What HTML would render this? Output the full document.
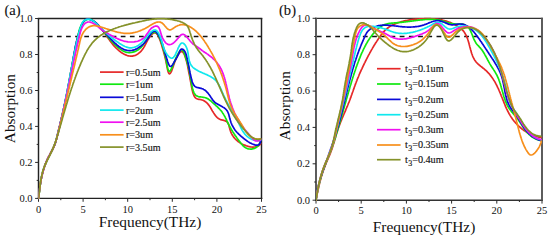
<!DOCTYPE html>
<html><head><meta charset="utf-8"><style>html,body{margin:0;padding:0;background:#fff;width:550px;height:238px;overflow:hidden}svg{display:block}</style></head><body>
<svg width="550" height="238" viewBox="0 0 550 238">
<style>text{font-family:"Liberation Serif",serif;fill:#111;stroke:#111;stroke-width:0.15px}.tk{font-size:10.5px;stroke-width:0}.lg{font-size:10.1px}.lg2{font-size:10.2px}.sb{font-size:8px}.ax{font-size:15.4px;stroke-width:0}.pl{font-size:14.6px;stroke-width:0.1px}</style>
<rect width="550" height="238" fill="#fff"/>
<line x1="38.70" y1="36.5" x2="261.5" y2="36.5" stroke="#111" stroke-width="1.4" stroke-dasharray="4.7 4.42"/>
<path d="M37.7 18.5H262.3 M37.7 198.4H262.3" stroke="#222" stroke-width="1.35" fill="none"/>
<path d="M38.5 17.9V199.0 M261.5 17.9V199.0" stroke="#222" stroke-width="1.45" fill="none"/>
<line x1="35.1" y1="198.4" x2="38.5" y2="198.4" stroke="#2a2a2a" stroke-width="1"/>
<text x="32.5" y="201.7" text-anchor="end" class="tk">0.0</text>
<line x1="36.7" y1="180.4" x2="38.5" y2="180.4" stroke="#2a2a2a" stroke-width="1"/>
<line x1="35.1" y1="162.4" x2="38.5" y2="162.4" stroke="#2a2a2a" stroke-width="1"/>
<text x="32.5" y="165.7" text-anchor="end" class="tk">0.2</text>
<line x1="36.7" y1="144.4" x2="38.5" y2="144.4" stroke="#2a2a2a" stroke-width="1"/>
<line x1="35.1" y1="126.4" x2="38.5" y2="126.4" stroke="#2a2a2a" stroke-width="1"/>
<text x="32.5" y="129.7" text-anchor="end" class="tk">0.4</text>
<line x1="36.7" y1="108.5" x2="38.5" y2="108.5" stroke="#2a2a2a" stroke-width="1"/>
<line x1="35.1" y1="90.5" x2="38.5" y2="90.5" stroke="#2a2a2a" stroke-width="1"/>
<text x="32.5" y="93.8" text-anchor="end" class="tk">0.6</text>
<line x1="36.7" y1="72.5" x2="38.5" y2="72.5" stroke="#2a2a2a" stroke-width="1"/>
<line x1="35.1" y1="54.5" x2="38.5" y2="54.5" stroke="#2a2a2a" stroke-width="1"/>
<text x="32.5" y="57.8" text-anchor="end" class="tk">0.8</text>
<line x1="36.7" y1="36.5" x2="38.5" y2="36.5" stroke="#2a2a2a" stroke-width="1"/>
<line x1="35.1" y1="18.5" x2="38.5" y2="18.5" stroke="#2a2a2a" stroke-width="1"/>
<text x="32.5" y="21.8" text-anchor="end" class="tk">1.0</text>
<line x1="38.5" y1="198.4" x2="38.5" y2="201.8" stroke="#2a2a2a" stroke-width="1"/>
<text x="38.5" y="212.5" text-anchor="middle" class="tk">0</text>
<line x1="60.8" y1="198.4" x2="60.8" y2="200.2" stroke="#2a2a2a" stroke-width="1"/>
<line x1="83.1" y1="198.4" x2="83.1" y2="201.8" stroke="#2a2a2a" stroke-width="1"/>
<text x="83.1" y="212.5" text-anchor="middle" class="tk">5</text>
<line x1="105.4" y1="198.4" x2="105.4" y2="200.2" stroke="#2a2a2a" stroke-width="1"/>
<line x1="127.7" y1="198.4" x2="127.7" y2="201.8" stroke="#2a2a2a" stroke-width="1"/>
<text x="127.7" y="212.5" text-anchor="middle" class="tk">10</text>
<line x1="150.0" y1="198.4" x2="150.0" y2="200.2" stroke="#2a2a2a" stroke-width="1"/>
<line x1="172.3" y1="198.4" x2="172.3" y2="201.8" stroke="#2a2a2a" stroke-width="1"/>
<text x="172.3" y="212.5" text-anchor="middle" class="tk">15</text>
<line x1="194.6" y1="198.4" x2="194.6" y2="200.2" stroke="#2a2a2a" stroke-width="1"/>
<line x1="216.9" y1="198.4" x2="216.9" y2="201.8" stroke="#2a2a2a" stroke-width="1"/>
<text x="216.9" y="212.5" text-anchor="middle" class="tk">20</text>
<line x1="239.2" y1="198.4" x2="239.2" y2="200.2" stroke="#2a2a2a" stroke-width="1"/>
<line x1="261.5" y1="198.4" x2="261.5" y2="201.8" stroke="#2a2a2a" stroke-width="1"/>
<text x="261.5" y="212.5" text-anchor="middle" class="tk">25</text>
<clipPath id="cl"><rect x="38.5" y="17.5" width="223.0" height="181.9"/></clipPath>
<g clip-path="url(#cl)" fill="none" stroke-width="1.7" stroke-linejoin="round" stroke-linecap="round">
<path d="M38.5 198.4L38.6 197.4L38.7 196.4L38.8 195.4L38.9 194.5L39.1 193.5L39.2 192.5L39.3 191.5L39.4 190.5L39.5 189.5L39.7 188.5L39.8 187.5L40.0 186.5L40.1 185.5L40.3 184.5L40.4 183.5L40.6 182.6L40.7 181.6L40.9 180.6L41.1 179.6L41.3 178.6L41.5 177.6L41.7 176.6L41.9 175.7L42.1 174.7L42.4 173.7L42.6 172.8L42.9 171.8L43.2 170.8L43.4 169.9L43.7 168.9L44.0 168.0L44.3 167.0L44.6 166.1L45.0 165.1L45.3 164.2L45.7 163.3L46.1 162.3L46.5 161.4L46.9 160.5L47.3 159.6L47.7 158.7L48.2 157.8L48.6 156.9L49.1 156.0L49.6 155.2L50.0 154.3L50.5 153.4L51.0 152.5L51.5 151.6L51.9 150.7L52.4 149.9L52.9 149.0L53.3 148.1L53.7 147.2L54.1 146.2L54.5 145.3L54.8 144.4L55.2 143.5L55.5 142.5L55.8 141.6L56.1 140.6L56.3 139.6L56.6 138.7L56.8 137.7L57.0 136.7L57.3 135.8L57.5 134.8L57.7 133.8L57.9 132.8L58.2 131.9L58.4 130.9L58.6 129.9L58.9 128.9L59.1 128.0L59.3 127.0L59.6 126.0L59.8 125.1L60.0 124.1L60.3 123.1L60.5 122.2L60.7 121.2L61.0 120.2L61.2 119.2L61.4 118.3L61.7 117.3L61.9 116.3L62.1 115.4L62.4 114.4L62.6 113.4L62.8 112.5L63.0 111.5L63.3 110.5L63.5 109.5L63.7 108.6L63.9 107.6L64.1 106.6L64.3 105.6L64.5 104.7L64.8 103.7L65.0 102.7L65.2 101.7L65.4 100.7L65.6 99.8L65.8 98.8L66.0 97.8L66.2 96.8L66.4 95.8L66.6 94.9L66.8 93.9L67.0 92.9L67.2 91.9L67.3 90.9L67.5 90.0L67.7 89.0L67.9 88.0L68.1 87.0L68.3 86.0L68.5 85.0L68.7 84.1L68.8 83.1L69.0 82.1L69.2 81.1L69.4 80.1L69.6 79.1L69.8 78.2L69.9 77.2L70.1 76.2L70.3 75.2L70.5 74.2L70.6 73.2L70.8 72.3L71.0 71.3L71.2 70.3L71.3 69.3L71.5 68.3L71.7 67.3L71.9 66.4L72.0 65.4L72.2 64.4L72.4 63.4L72.6 62.4L72.7 61.5L72.9 60.5L73.1 59.5L73.2 58.5L73.4 57.6L73.6 56.6L73.8 55.6L73.9 54.6L74.1 53.6L74.3 52.7L74.5 51.7L74.7 50.7L74.8 49.7L75.0 48.8L75.2 47.8L75.4 46.8L75.6 45.9L75.8 44.9L76.0 43.9L76.3 42.9L76.5 42.0L76.7 41.0L76.9 40.0L77.2 39.0L77.4 38.1L77.7 37.1L78.0 36.1L78.2 35.2L78.5 34.2L78.8 33.2L79.1 32.2L79.4 31.3L79.8 30.3L80.1 29.3L80.4 28.4L80.8 27.4L81.2 26.4L81.5 25.4L81.9 24.5L82.4 23.6L82.8 22.7L83.3 21.9L83.9 21.1L84.5 20.5L85.1 19.9L85.9 19.5L86.7 19.2L87.6 19.1L88.6 19.2L89.6 19.4L90.7 19.7L91.7 20.1L92.7 20.6L93.6 21.1L94.5 21.7L95.3 22.3L96.1 22.9L96.8 23.6L97.5 24.3L98.2 25.0L98.9 25.8L99.6 26.5L100.2 27.3L100.9 28.0L101.5 28.8L102.1 29.6L102.7 30.4L103.3 31.2L103.8 32.0L104.4 32.8L105.0 33.6L105.5 34.4L106.1 35.2L106.7 36.0L107.2 36.9L107.8 37.7L108.4 38.5L108.9 39.3L109.5 40.1L110.1 40.9L110.7 41.7L111.3 42.5L111.9 43.3L112.5 44.1L113.2 44.9L113.8 45.6L114.5 46.4L115.2 47.1L115.9 47.8L116.6 48.5L117.3 49.2L118.1 49.9L118.9 50.6L119.7 51.2L120.5 51.8L121.3 52.5L122.1 53.0L123.0 53.6L123.9 54.1L124.8 54.5L125.7 54.9L126.6 55.3L127.5 55.6L128.5 55.8L129.4 56.0L130.4 56.1L131.3 56.1L132.3 56.1L133.2 55.9L134.2 55.7L135.2 55.4L136.1 55.0L137.0 54.4L137.9 53.9L138.8 53.2L139.6 52.5L140.4 51.8L141.1 51.1L141.8 50.3L142.4 49.5L143.0 48.8L143.5 47.9L144.0 47.1L144.5 46.3L144.9 45.4L145.4 44.6L145.8 43.7L146.3 42.8L146.7 41.9L147.2 41.0L147.7 40.1L148.2 39.3L148.8 38.4L149.3 37.5L150.0 36.6L150.7 35.7L151.4 34.8L152.2 34.1L152.9 33.5L153.7 33.0L154.5 32.8L155.2 32.8L155.9 33.1L156.6 33.7L157.2 34.4L157.8 35.3L158.3 36.3L158.8 37.3L159.3 38.4L159.7 39.4L160.1 40.4L160.5 41.4L160.8 42.4L161.1 43.4L161.4 44.3L161.7 45.2L162.0 46.2L162.2 47.1L162.5 48.0L162.7 48.8L163.0 49.7L163.2 50.5L163.5 51.4L163.7 52.3L163.9 53.1L164.2 54.0L164.4 54.9L164.7 55.8L164.9 56.8L165.1 57.8L165.4 58.8L165.6 59.8L165.9 60.9L166.1 62.1L166.3 63.3L166.6 64.6L166.8 65.9L167.1 67.2L167.4 68.5L167.6 69.8L167.9 70.9L168.2 71.9L168.5 72.8L168.9 73.4L169.2 73.8L169.6 73.8L170.0 73.6L170.4 73.1L170.9 72.4L171.3 71.5L171.8 70.5L172.2 69.3L172.6 68.2L173.0 67.1L173.4 66.0L173.7 64.9L174.1 64.0L174.4 63.0L174.7 62.1L175.1 61.2L175.4 60.2L175.8 59.3L176.2 58.4L176.7 57.4L177.2 56.4L177.8 55.4L178.4 54.4L179.0 53.5L179.7 52.7L180.3 52.1L181.0 51.7L181.6 51.6L182.2 51.7L182.8 52.2L183.4 52.9L183.9 53.7L184.4 54.7L184.8 55.8L185.2 57.0L185.6 58.1L185.9 59.2L186.3 60.3L186.5 61.3L186.8 62.3L187.0 63.3L187.3 64.3L187.5 65.3L187.7 66.2L187.8 67.1L188.0 68.1L188.2 69.0L188.4 69.9L188.5 70.9L188.7 71.8L188.9 72.8L189.1 73.7L189.3 74.7L189.5 75.7L189.7 76.6L189.9 77.6L190.0 78.6L190.2 79.6L190.4 80.6L190.6 81.6L190.8 82.6L191.0 83.6L191.1 84.6L191.3 85.6L191.5 86.6L191.7 87.6L191.9 88.6L192.1 89.6L192.3 90.6L192.6 91.6L192.8 92.5L193.1 93.5L193.5 94.5L193.9 95.4L194.3 96.3L194.8 97.1L195.5 97.8L196.2 98.4L197.0 98.8L198.0 99.1L199.0 99.3L200.0 99.5L201.1 99.7L202.1 100.0L203.0 100.3L203.9 100.7L204.7 101.2L205.5 101.7L206.2 102.3L206.9 102.9L207.6 103.6L208.2 104.4L208.8 105.1L209.4 105.9L209.9 106.8L210.5 107.6L211.0 108.5L211.5 109.4L212.0 110.3L212.5 111.2L213.1 112.0L213.6 112.9L214.2 113.8L214.7 114.6L215.3 115.4L216.0 116.2L216.6 116.9L217.3 117.6L218.1 118.2L218.9 118.7L219.8 119.2L220.7 119.6L221.8 119.9L222.8 120.2L223.8 120.4L224.8 120.7L225.7 121.1L226.6 121.6L227.3 122.2L227.8 122.9L228.3 123.8L228.7 124.7L229.0 125.7L229.2 126.7L229.5 127.8L229.8 128.8L230.0 129.8L230.4 130.8L230.7 131.8L231.1 132.7L231.5 133.6L232.0 134.4L232.4 135.3L233.0 136.1L233.5 136.9L234.1 137.6L234.7 138.3L235.3 139.0L236.0 139.7L236.7 140.3L237.4 140.9L238.1 141.5L238.9 142.1L239.8 142.6L240.6 143.2L241.5 143.7L242.4 144.2L243.3 144.6L244.3 145.0L245.3 145.4L246.3 145.8L247.3 146.1L248.3 146.4L249.4 146.7L250.4 146.9L251.4 147.0L252.4 147.1L253.4 147.1L254.4 147.0L255.4 146.9L256.3 146.7L257.2 146.4L258.0 146.0L258.9 145.5L259.6 144.9L260.3 144.3L261.0 143.5" stroke="#e62828"/>
<path d="M38.5 198.4L38.6 197.4L38.8 196.4L38.9 195.5L39.0 194.5L39.1 193.5L39.3 192.5L39.4 191.5L39.5 190.5L39.6 189.5L39.7 188.5L39.9 187.5L40.0 186.5L40.1 185.5L40.2 184.5L40.4 183.5L40.5 182.5L40.7 181.5L40.8 180.5L41.0 179.5L41.2 178.6L41.4 177.6L41.6 176.6L41.8 175.6L42.0 174.6L42.2 173.6L42.5 172.7L42.7 171.7L43.0 170.8L43.3 169.8L43.6 168.9L43.9 167.9L44.3 167.0L44.6 166.0L45.0 165.1L45.4 164.2L45.8 163.3L46.2 162.4L46.6 161.5L47.0 160.6L47.5 159.7L47.9 158.8L48.4 157.9L48.8 157.0L49.3 156.1L49.7 155.2L50.2 154.3L50.6 153.4L51.1 152.5L51.5 151.6L52.0 150.7L52.4 149.8L52.8 148.9L53.2 148.0L53.6 147.0L54.0 146.1L54.3 145.2L54.7 144.3L55.0 143.3L55.4 142.4L55.7 141.5L56.0 140.5L56.2 139.6L56.5 138.6L56.8 137.7L57.0 136.7L57.3 135.7L57.5 134.8L57.8 133.8L58.0 132.9L58.3 131.9L58.5 130.9L58.8 130.0L59.0 129.0L59.2 128.0L59.5 127.0L59.7 126.1L60.0 125.1L60.2 124.1L60.4 123.2L60.6 122.2L60.9 121.2L61.1 120.2L61.3 119.2L61.5 118.3L61.8 117.3L62.0 116.3L62.2 115.3L62.4 114.4L62.6 113.4L62.8 112.4L63.1 111.4L63.3 110.4L63.5 109.4L63.7 108.5L63.9 107.5L64.1 106.5L64.3 105.5L64.5 104.5L64.7 103.5L64.9 102.6L65.1 101.6L65.3 100.6L65.5 99.6L65.7 98.6L65.9 97.6L66.1 96.7L66.3 95.7L66.5 94.7L66.7 93.7L66.9 92.7L67.1 91.7L67.3 90.8L67.5 89.8L67.7 88.8L67.9 87.8L68.0 86.8L68.2 85.8L68.4 84.9L68.6 83.9L68.8 82.9L69.0 81.9L69.2 80.9L69.4 80.0L69.5 79.0L69.7 78.0L69.9 77.0L70.1 76.1L70.3 75.1L70.5 74.1L70.6 73.1L70.8 72.2L71.0 71.2L71.2 70.2L71.4 69.3L71.5 68.3L71.7 67.3L71.9 66.3L72.1 65.4L72.3 64.4L72.4 63.4L72.6 62.5L72.8 61.5L73.0 60.5L73.2 59.5L73.4 58.6L73.5 57.6L73.7 56.6L73.9 55.6L74.1 54.7L74.3 53.7L74.5 52.7L74.7 51.7L74.9 50.7L75.1 49.8L75.3 48.8L75.4 47.8L75.6 46.8L75.8 45.8L76.0 44.8L76.2 43.8L76.4 42.8L76.6 41.8L76.9 40.8L77.1 39.8L77.3 38.8L77.5 37.8L77.7 36.8L77.9 35.8L78.1 34.8L78.4 33.8L78.6 32.8L78.8 31.8L79.1 30.8L79.4 29.8L79.7 28.8L80.0 27.9L80.4 27.0L80.8 26.1L81.2 25.2L81.7 24.4L82.2 23.6L82.8 22.8L83.4 22.1L84.0 21.4L84.8 20.7L85.5 20.2L86.3 19.7L87.2 19.3L88.1 19.1L89.0 19.1L89.9 19.2L90.8 19.5L91.7 19.9L92.6 20.4L93.5 21.0L94.4 21.6L95.2 22.3L96.1 23.1L96.9 23.8L97.6 24.6L98.3 25.3L99.0 26.1L99.7 26.8L100.3 27.5L101.0 28.3L101.6 29.0L102.2 29.7L102.8 30.5L103.4 31.2L104.0 32.0L104.6 32.8L105.2 33.5L105.8 34.3L106.5 35.1L107.1 35.8L107.7 36.6L108.3 37.4L109.0 38.2L109.6 38.9L110.3 39.7L110.9 40.5L111.6 41.2L112.3 41.9L113.0 42.7L113.7 43.4L114.4 44.1L115.1 44.8L115.8 45.5L116.6 46.2L117.4 46.9L118.1 47.5L118.9 48.2L119.7 48.8L120.6 49.4L121.4 49.9L122.3 50.5L123.2 51.0L124.1 51.4L125.0 51.8L125.9 52.1L126.9 52.4L127.8 52.5L128.8 52.6L129.8 52.6L130.8 52.5L131.8 52.4L132.8 52.2L133.7 51.9L134.7 51.6L135.6 51.2L136.5 50.7L137.4 50.2L138.3 49.7L139.1 49.1L139.9 48.4L140.6 47.8L141.3 47.1L141.9 46.3L142.6 45.6L143.2 44.8L143.7 44.0L144.3 43.2L144.9 42.3L145.4 41.5L146.0 40.6L146.5 39.8L147.1 38.9L147.7 38.1L148.4 37.2L149.0 36.4L149.7 35.6L150.5 34.8L151.2 34.0L152.0 33.3L152.8 32.8L153.7 32.4L154.4 32.2L155.2 32.2L155.9 32.5L156.6 33.1L157.2 33.8L157.8 34.6L158.4 35.5L158.9 36.5L159.4 37.5L159.8 38.5L160.2 39.5L160.6 40.4L161.0 41.4L161.3 42.4L161.6 43.3L161.9 44.3L162.2 45.2L162.5 46.1L162.8 47.0L163.1 47.9L163.3 48.7L163.6 49.6L163.8 50.5L164.1 51.4L164.3 52.3L164.5 53.2L164.8 54.1L165.0 55.0L165.2 56.0L165.5 57.0L165.7 58.1L165.9 59.2L166.2 60.3L166.4 61.6L166.6 62.8L166.9 64.1L167.1 65.4L167.3 66.7L167.6 67.9L167.9 69.0L168.2 69.9L168.5 70.6L168.9 71.1L169.3 71.3L169.7 71.3L170.1 70.9L170.6 70.3L171.1 69.5L171.5 68.5L172.0 67.5L172.5 66.4L172.9 65.3L173.4 64.2L173.8 63.2L174.2 62.3L174.6 61.3L175.0 60.4L175.3 59.4L175.8 58.5L176.2 57.5L176.6 56.6L177.1 55.5L177.7 54.5L178.2 53.4L178.8 52.5L179.4 51.6L180.0 50.8L180.6 50.2L181.2 49.9L181.7 49.8L182.3 50.0L182.8 50.5L183.3 51.2L183.8 52.1L184.2 53.1L184.6 54.2L185.0 55.3L185.4 56.5L185.8 57.6L186.1 58.7L186.4 59.8L186.7 60.8L187.0 61.8L187.3 62.7L187.6 63.7L187.8 64.6L188.0 65.5L188.3 66.4L188.5 67.3L188.7 68.2L188.9 69.2L189.1 70.1L189.2 71.0L189.4 71.9L189.6 72.9L189.8 73.8L190.0 74.8L190.1 75.8L190.3 76.7L190.5 77.7L190.6 78.7L190.8 79.7L191.0 80.7L191.2 81.8L191.4 82.8L191.6 83.9L191.8 85.0L192.0 86.1L192.2 87.2L192.5 88.3L192.7 89.3L193.1 90.4L193.4 91.4L193.8 92.3L194.3 93.2L194.8 94.0L195.4 94.8L196.0 95.4L196.7 95.9L197.6 96.3L198.5 96.6L199.4 96.8L200.4 96.9L201.4 97.0L202.5 97.2L203.5 97.3L204.5 97.5L205.5 97.8L206.4 98.1L207.3 98.5L208.2 99.0L209.0 99.6L209.8 100.2L210.6 100.8L211.4 101.4L212.1 102.1L212.9 102.8L213.6 103.5L214.4 104.2L215.2 104.9L215.9 105.6L216.7 106.2L217.4 106.9L218.1 107.6L218.8 108.3L219.5 109.0L220.2 109.8L220.9 110.5L221.5 111.3L222.1 112.1L222.6 112.9L223.2 113.7L223.7 114.6L224.2 115.4L224.7 116.3L225.2 117.2L225.6 118.1L226.1 119.0L226.5 119.9L226.9 120.9L227.4 121.8L227.8 122.7L228.2 123.6L228.7 124.5L229.1 125.4L229.6 126.2L230.1 127.1L230.5 128.0L231.0 128.8L231.5 129.7L232.0 130.5L232.5 131.4L233.1 132.2L233.6 133.0L234.1 133.8L234.7 134.7L235.2 135.5L235.8 136.3L236.4 137.1L236.9 137.9L237.5 138.8L238.1 139.6L238.7 140.4L239.4 141.2L240.0 142.0L240.6 142.9L241.3 143.7L242.0 144.5L242.6 145.3L243.4 146.0L244.1 146.7L244.9 147.3L245.7 147.8L246.6 148.3L247.5 148.6L248.4 148.9L249.4 149.0L250.4 149.1L251.4 149.1L252.4 148.9L253.3 148.7L254.3 148.4L255.2 148.0L256.1 147.5L256.9 146.9L257.7 146.2L258.4 145.4L259.0 144.5L259.5 143.6L259.9 142.5L260.2 141.4" stroke="#10e810"/>
<path d="M38.5 198.4L38.6 197.4L38.7 196.4L38.8 195.4L38.9 194.4L39.0 193.4L39.2 192.4L39.3 191.4L39.4 190.4L39.5 189.5L39.7 188.5L39.8 187.5L40.0 186.5L40.1 185.5L40.3 184.5L40.4 183.5L40.6 182.6L40.8 181.6L40.9 180.6L41.1 179.6L41.3 178.6L41.5 177.7L41.7 176.7L41.9 175.7L42.2 174.7L42.4 173.7L42.7 172.8L42.9 171.8L43.2 170.8L43.4 169.9L43.7 168.9L44.0 167.9L44.3 167.0L44.7 166.0L45.0 165.1L45.3 164.2L45.7 163.2L46.1 162.3L46.5 161.4L46.9 160.5L47.3 159.6L47.7 158.7L48.2 157.8L48.6 156.9L49.1 156.0L49.6 155.1L50.0 154.2L50.5 153.3L51.0 152.5L51.5 151.6L52.0 150.7L52.4 149.8L52.9 148.9L53.3 148.0L53.7 147.1L54.1 146.2L54.5 145.3L54.9 144.4L55.2 143.4L55.5 142.5L55.8 141.5L56.1 140.6L56.3 139.6L56.6 138.6L56.8 137.7L57.0 136.7L57.3 135.7L57.5 134.7L57.7 133.7L58.0 132.8L58.2 131.8L58.4 130.8L58.6 129.8L58.9 128.9L59.1 127.9L59.3 126.9L59.6 126.0L59.8 125.0L60.1 124.0L60.3 123.1L60.5 122.1L60.8 121.1L61.0 120.2L61.2 119.2L61.5 118.2L61.7 117.2L61.9 116.3L62.2 115.3L62.4 114.3L62.6 113.4L62.8 112.4L63.1 111.4L63.3 110.4L63.5 109.5L63.7 108.5L63.9 107.5L64.1 106.5L64.3 105.6L64.6 104.6L64.8 103.6L65.0 102.6L65.2 101.7L65.4 100.7L65.6 99.7L65.8 98.7L66.0 97.7L66.2 96.7L66.4 95.8L66.6 94.8L66.8 93.8L67.0 92.8L67.2 91.8L67.4 90.8L67.6 89.9L67.7 88.9L67.9 87.9L68.1 86.9L68.3 85.9L68.5 84.9L68.7 84.0L68.9 83.0L69.1 82.0L69.2 81.0L69.4 80.0L69.6 79.0L69.8 78.1L70.0 77.1L70.1 76.1L70.3 75.1L70.5 74.1L70.7 73.1L70.8 72.1L71.0 71.2L71.2 70.2L71.4 69.2L71.5 68.2L71.7 67.2L71.9 66.3L72.1 65.3L72.2 64.3L72.4 63.3L72.6 62.3L72.8 61.4L72.9 60.4L73.1 59.4L73.3 58.4L73.4 57.4L73.6 56.5L73.8 55.5L74.0 54.5L74.1 53.5L74.3 52.6L74.5 51.6L74.7 50.6L74.9 49.6L75.0 48.7L75.2 47.7L75.4 46.7L75.6 45.7L75.8 44.8L76.1 43.8L76.3 42.8L76.5 41.8L76.7 40.9L77.0 39.9L77.2 38.9L77.5 38.0L77.7 37.0L78.0 36.0L78.3 35.0L78.6 34.1L78.9 33.1L79.2 32.1L79.5 31.1L79.8 30.2L80.1 29.2L80.5 28.2L80.8 27.2L81.2 26.3L81.6 25.3L82.0 24.3L82.4 23.4L82.9 22.5L83.4 21.7L84.0 21.0L84.6 20.4L85.2 19.8L86.0 19.4L86.8 19.2L87.7 19.1L88.7 19.2L89.7 19.4L90.8 19.8L91.8 20.2L92.8 20.7L93.7 21.2L94.6 21.8L95.4 22.4L96.2 23.1L96.9 23.7L97.7 24.5L98.4 25.2L99.0 25.9L99.7 26.7L100.3 27.4L101.0 28.2L101.6 28.9L102.2 29.7L102.9 30.4L103.5 31.1L104.2 31.9L104.8 32.6L105.5 33.3L106.2 34.0L106.9 34.7L107.5 35.4L108.2 36.2L108.9 36.9L109.6 37.6L110.3 38.3L111.0 39.1L111.7 39.8L112.4 40.6L113.2 41.3L113.9 42.1L114.6 42.8L115.4 43.5L116.2 44.2L116.9 44.9L117.7 45.5L118.5 46.2L119.3 46.8L120.1 47.3L121.0 47.9L121.8 48.4L122.7 48.8L123.5 49.2L124.4 49.6L125.3 49.9L126.3 50.2L127.2 50.4L128.2 50.5L129.1 50.6L130.1 50.6L131.1 50.5L132.1 50.4L133.1 50.2L134.0 49.9L135.0 49.6L135.9 49.1L136.8 48.7L137.7 48.2L138.6 47.6L139.5 47.1L140.3 46.5L141.1 45.9L141.8 45.3L142.6 44.7L143.3 44.1L144.0 43.4L144.6 42.7L145.3 42.0L145.9 41.2L146.6 40.3L147.2 39.4L147.9 38.5L148.5 37.5L149.2 36.5L149.8 35.4L150.5 34.4L151.1 33.5L151.8 32.6L152.5 32.0L153.2 31.4L153.9 31.1L154.6 31.1L155.3 31.3L156.0 31.7L156.7 32.4L157.3 33.2L158.0 34.1L158.6 35.0L159.1 35.9L159.6 36.9L160.1 37.8L160.5 38.8L160.9 39.7L161.3 40.6L161.6 41.5L162.0 42.5L162.3 43.4L162.6 44.3L162.8 45.2L163.1 46.1L163.4 47.0L163.6 47.8L163.9 48.7L164.2 49.6L164.4 50.6L164.7 51.5L164.9 52.4L165.2 53.4L165.5 54.4L165.8 55.4L166.1 56.4L166.4 57.4L166.7 58.5L167.0 59.6L167.4 60.8L167.8 62.0L168.2 63.1L168.6 64.2L169.1 65.1L169.5 65.8L170.0 66.3L170.5 66.5L171.1 66.3L171.6 65.9L172.2 65.2L172.8 64.4L173.4 63.4L174.0 62.4L174.5 61.4L175.1 60.4L175.7 59.5L176.2 58.5L176.8 57.6L177.3 56.7L177.8 55.7L178.3 54.7L178.7 53.7L179.1 52.6L179.6 51.6L180.0 50.7L180.5 49.9L181.0 49.4L181.5 49.0L182.1 49.0L182.7 49.2L183.4 49.7L184.0 50.3L184.6 51.1L185.1 51.9L185.5 52.9L185.9 53.9L186.2 54.9L186.6 56.0L186.8 57.1L187.1 58.2L187.3 59.2L187.6 60.3L187.8 61.3L188.0 62.3L188.2 63.3L188.4 64.3L188.6 65.2L188.8 66.2L189.0 67.1L189.1 68.1L189.3 69.0L189.5 69.9L189.7 70.9L189.9 71.8L190.0 72.7L190.2 73.7L190.4 74.6L190.7 75.6L190.9 76.6L191.1 77.6L191.4 78.6L191.6 79.6L191.9 80.6L192.2 81.7L192.6 82.7L193.0 83.7L193.4 84.6L194.0 85.4L194.6 86.1L195.3 86.7L196.1 87.1L197.0 87.4L198.0 87.7L199.0 87.9L200.0 88.1L201.0 88.3L201.9 88.6L202.9 88.9L203.7 89.4L204.6 89.9L205.4 90.5L206.1 91.2L206.8 91.9L207.5 92.7L208.2 93.4L208.8 94.3L209.5 95.1L210.1 96.0L210.6 96.8L211.2 97.7L211.8 98.5L212.3 99.4L212.9 100.2L213.6 100.9L214.2 101.7L214.9 102.4L215.7 103.0L216.5 103.6L217.4 104.1L218.3 104.6L219.2 105.1L220.1 105.6L221.0 106.1L221.9 106.6L222.8 107.1L223.6 107.6L224.5 108.1L225.2 108.7L225.9 109.3L226.5 110.0L227.1 110.8L227.6 111.6L228.0 112.5L228.4 113.4L228.7 114.3L229.0 115.3L229.2 116.3L229.5 117.3L229.7 118.3L230.0 119.3L230.3 120.3L230.6 121.3L230.9 122.3L231.3 123.3L231.7 124.2L232.1 125.1L232.6 126.0L233.1 126.9L233.6 127.8L234.1 128.6L234.6 129.4L235.2 130.2L235.8 131.0L236.4 131.7L237.1 132.5L237.8 133.2L238.5 133.9L239.2 134.5L239.9 135.2L240.6 135.9L241.4 136.5L242.2 137.2L243.0 137.8L243.8 138.5L244.6 139.1L245.4 139.7L246.3 140.4L247.1 141.0L248.0 141.6L248.8 142.1L249.7 142.7L250.6 143.1L251.5 143.6L252.3 144.0L253.2 144.3L254.1 144.6L255.0 144.9L255.9 145.1L256.8 145.1L257.7 145.1L258.5 144.8L259.3 144.2L259.9 143.3L260.5 141.9L260.9 140.1" stroke="#0a0ad8"/>
<path d="M38.5 198.4L38.6 197.4L38.8 196.4L38.9 195.5L39.0 194.5L39.1 193.5L39.3 192.5L39.4 191.5L39.5 190.5L39.6 189.5L39.7 188.5L39.9 187.5L40.0 186.5L40.1 185.5L40.2 184.5L40.4 183.5L40.5 182.5L40.7 181.5L40.8 180.5L41.0 179.5L41.2 178.5L41.4 177.6L41.6 176.6L41.8 175.6L42.0 174.6L42.2 173.6L42.5 172.7L42.7 171.7L43.0 170.7L43.3 169.8L43.6 168.8L43.9 167.9L44.3 167.0L44.6 166.0L45.0 165.1L45.4 164.2L45.8 163.3L46.2 162.4L46.6 161.4L47.0 160.5L47.5 159.6L47.9 158.7L48.4 157.8L48.8 156.9L49.3 156.0L49.7 155.1L50.2 154.3L50.6 153.4L51.0 152.5L51.5 151.6L51.9 150.7L52.3 149.7L52.8 148.8L53.2 147.9L53.6 147.0L53.9 146.1L54.3 145.2L54.7 144.2L55.0 143.3L55.3 142.4L55.6 141.4L55.9 140.5L56.2 139.5L56.5 138.6L56.8 137.6L57.1 136.7L57.3 135.7L57.6 134.7L57.8 133.8L58.1 132.8L58.4 131.8L58.6 130.9L58.8 129.9L59.1 128.9L59.3 128.0L59.6 127.0L59.8 126.0L60.0 125.0L60.3 124.1L60.5 123.1L60.7 122.1L61.0 121.2L61.2 120.2L61.4 119.2L61.6 118.2L61.9 117.3L62.1 116.3L62.3 115.3L62.5 114.3L62.7 113.3L62.9 112.4L63.1 111.4L63.3 110.4L63.5 109.4L63.8 108.4L64.0 107.5L64.2 106.5L64.4 105.5L64.6 104.5L64.8 103.5L65.0 102.6L65.2 101.6L65.3 100.6L65.5 99.6L65.7 98.6L65.9 97.6L66.1 96.7L66.3 95.7L66.5 94.7L66.7 93.7L66.9 92.7L67.1 91.7L67.2 90.8L67.4 89.8L67.6 88.8L67.8 87.8L68.0 86.8L68.2 85.8L68.4 84.8L68.5 83.9L68.7 82.9L68.9 81.9L69.1 80.9L69.3 79.9L69.5 78.9L69.6 78.0L69.8 77.0L70.0 76.0L70.2 75.0L70.4 74.0L70.6 73.0L70.7 72.1L70.9 71.1L71.1 70.1L71.3 69.1L71.5 68.1L71.7 67.1L71.8 66.2L72.0 65.2L72.2 64.2L72.4 63.2L72.6 62.2L72.8 61.3L73.0 60.3L73.1 59.3L73.3 58.3L73.5 57.4L73.7 56.4L73.9 55.4L74.1 54.4L74.3 53.5L74.5 52.5L74.7 51.5L74.9 50.5L75.1 49.6L75.3 48.6L75.5 47.6L75.7 46.7L75.9 45.7L76.1 44.7L76.3 43.7L76.5 42.8L76.7 41.8L76.9 40.8L77.2 39.9L77.4 38.9L77.6 37.9L77.8 37.0L78.1 36.0L78.3 35.0L78.6 34.0L78.9 33.1L79.1 32.1L79.4 31.1L79.7 30.1L80.0 29.1L80.3 28.1L80.6 27.1L81.0 26.1L81.3 25.1L81.7 24.1L82.1 23.2L82.6 22.3L83.1 21.5L83.8 20.8L84.5 20.3L85.3 19.8L86.2 19.6L87.1 19.4L88.1 19.4L89.1 19.4L90.1 19.6L91.1 19.9L92.0 20.3L92.9 20.8L93.7 21.3L94.5 21.9L95.3 22.6L96.0 23.3L96.8 24.0L97.5 24.7L98.2 25.5L98.9 26.2L99.6 26.9L100.4 27.6L101.1 28.3L101.8 29.0L102.5 29.7L103.3 30.4L104.0 31.1L104.7 31.7L105.5 32.4L106.2 33.1L107.0 33.7L107.7 34.4L108.5 35.0L109.2 35.7L110.0 36.3L110.8 36.9L111.5 37.6L112.3 38.2L113.1 38.8L113.9 39.4L114.7 40.0L115.5 40.6L116.3 41.2L117.1 41.8L118.0 42.3L118.8 42.9L119.6 43.5L120.5 44.0L121.3 44.5L122.2 45.1L123.1 45.6L124.0 46.0L124.9 46.5L125.8 46.8L126.7 47.2L127.6 47.4L128.5 47.7L129.5 47.8L130.5 47.9L131.4 47.8L132.4 47.7L133.4 47.5L134.4 47.2L135.4 46.9L136.4 46.4L137.3 45.9L138.2 45.4L139.1 44.8L139.9 44.2L140.7 43.6L141.4 42.9L142.1 42.3L142.8 41.6L143.4 40.8L144.0 40.1L144.6 39.4L145.2 38.6L145.8 37.8L146.5 37.0L147.1 36.1L147.8 35.3L148.6 34.4L149.3 33.6L150.1 32.7L150.9 32.0L151.8 31.3L152.6 30.7L153.4 30.3L154.2 30.1L154.9 30.1L155.7 30.2L156.4 30.6L157.0 31.2L157.7 31.9L158.3 32.7L158.8 33.7L159.3 34.7L159.8 35.8L160.3 36.9L160.7 38.0L161.1 39.2L161.5 40.3L161.8 41.4L162.1 42.4L162.4 43.4L162.6 44.4L162.9 45.3L163.2 46.2L163.5 47.1L163.8 48.0L164.1 48.9L164.5 49.8L164.9 50.7L165.3 51.6L165.8 52.5L166.4 53.4L167.0 54.4L167.7 55.3L168.4 56.2L169.2 57.0L170.0 57.6L170.7 58.0L171.5 58.2L172.2 58.2L172.9 57.9L173.5 57.3L174.1 56.6L174.7 55.7L175.3 54.7L175.8 53.6L176.3 52.4L176.9 51.2L177.4 50.0L177.9 48.7L178.4 47.6L179.0 46.5L179.5 45.5L180.1 44.6L180.6 43.9L181.2 43.3L181.8 43.0L182.5 43.0L183.2 43.2L183.9 43.7L184.5 44.3L185.2 45.1L185.7 45.9L186.2 46.8L186.6 47.8L187.0 48.8L187.3 49.8L187.6 50.8L187.8 51.8L188.0 52.9L188.2 54.0L188.3 55.1L188.5 56.1L188.7 57.2L188.8 58.3L189.0 59.3L189.2 60.3L189.4 61.3L189.7 62.2L190.1 63.1L190.4 64.0L190.9 64.8L191.4 65.6L192.0 66.3L192.6 67.0L193.2 67.6L194.0 68.2L194.7 68.8L195.5 69.3L196.3 69.8L197.2 70.3L198.0 70.8L198.9 71.3L199.9 71.7L200.8 72.1L201.7 72.5L202.7 73.0L203.7 73.4L204.6 73.8L205.6 74.2L206.6 74.6L207.5 75.1L208.4 75.5L209.4 76.0L210.3 76.4L211.2 76.9L212.0 77.5L212.8 78.0L213.6 78.6L214.4 79.2L215.1 79.8L215.7 80.5L216.4 81.2L217.0 82.0L217.5 82.8L218.1 83.6L218.6 84.4L219.1 85.2L219.5 86.1L220.0 87.0L220.4 87.9L220.8 88.8L221.2 89.7L221.6 90.6L222.0 91.6L222.4 92.5L222.8 93.4L223.2 94.3L223.6 95.3L224.1 96.2L224.5 97.1L224.9 98.0L225.4 98.9L225.8 99.8L226.3 100.7L226.8 101.6L227.2 102.5L227.7 103.4L228.2 104.2L228.7 105.1L229.2 106.0L229.7 106.8L230.2 107.7L230.7 108.6L231.2 109.4L231.7 110.3L232.2 111.2L232.7 112.0L233.2 112.9L233.7 113.8L234.2 114.6L234.7 115.5L235.2 116.4L235.6 117.3L236.1 118.1L236.6 119.0L237.1 119.9L237.5 120.8L238.0 121.7L238.4 122.6L238.9 123.5L239.3 124.4L239.7 125.3L240.2 126.2L240.6 127.1L241.0 128.0L241.5 128.9L241.9 129.8L242.4 130.6L243.0 131.5L243.5 132.3L244.1 133.1L244.7 133.9L245.4 134.7L246.1 135.4L246.9 136.1L247.6 136.8L248.5 137.4L249.3 138.0L250.2 138.5L251.1 139.0L252.0 139.4L253.0 139.8L253.9 140.1L254.9 140.3L255.9 140.5L256.9 140.6L257.9 140.6L258.9 140.5L259.9 140.3L260.9 140.1" stroke="#10e8ee"/>
<path d="M38.5 198.4L38.6 197.4L38.7 196.4L38.8 195.4L38.9 194.4L39.0 193.4L39.1 192.4L39.3 191.4L39.4 190.5L39.5 189.5L39.6 188.5L39.8 187.5L39.9 186.5L40.1 185.5L40.2 184.5L40.4 183.5L40.6 182.6L40.8 181.6L40.9 180.6L41.1 179.6L41.3 178.6L41.5 177.7L41.8 176.7L42.0 175.7L42.2 174.7L42.4 173.8L42.7 172.8L43.0 171.8L43.2 170.9L43.5 169.9L43.8 169.0L44.1 168.0L44.4 167.1L44.7 166.1L45.0 165.2L45.4 164.2L45.7 163.3L46.1 162.3L46.4 161.4L46.8 160.5L47.2 159.6L47.7 158.7L48.1 157.8L48.5 156.9L49.0 156.0L49.5 155.1L49.9 154.2L50.4 153.3L50.9 152.4L51.3 151.6L51.8 150.7L52.3 149.8L52.7 148.9L53.1 148.0L53.6 147.1L54.0 146.2L54.4 145.3L54.7 144.4L55.1 143.4L55.4 142.5L55.7 141.6L56.0 140.6L56.3 139.7L56.6 138.7L56.9 137.7L57.1 136.8L57.4 135.8L57.6 134.8L57.9 133.9L58.1 132.9L58.4 131.9L58.6 131.0L58.9 130.0L59.1 129.0L59.3 128.0L59.6 127.1L59.8 126.1L60.0 125.1L60.3 124.1L60.5 123.2L60.7 122.2L61.0 121.2L61.2 120.3L61.4 119.3L61.6 118.3L61.9 117.3L62.1 116.4L62.3 115.4L62.5 114.4L62.7 113.4L63.0 112.5L63.2 111.5L63.4 110.5L63.6 109.5L63.8 108.6L64.0 107.6L64.3 106.6L64.5 105.6L64.7 104.7L64.9 103.7L65.1 102.7L65.3 101.7L65.5 100.8L65.7 99.8L65.9 98.8L66.2 97.8L66.4 96.8L66.6 95.9L66.8 94.9L67.0 93.9L67.2 92.9L67.4 92.0L67.6 91.0L67.8 90.0L68.0 89.0L68.2 88.1L68.4 87.1L68.6 86.1L68.8 85.1L69.0 84.2L69.2 83.2L69.4 82.2L69.6 81.2L69.8 80.2L70.0 79.3L70.2 78.3L70.4 77.3L70.7 76.3L70.9 75.4L71.1 74.4L71.3 73.4L71.5 72.4L71.7 71.5L71.9 70.5L72.1 69.5L72.3 68.5L72.5 67.5L72.7 66.6L72.9 65.6L73.1 64.6L73.3 63.6L73.5 62.7L73.7 61.7L73.9 60.7L74.1 59.7L74.3 58.8L74.6 57.8L74.8 56.8L75.0 55.8L75.2 54.9L75.4 53.9L75.6 52.9L75.8 51.9L76.0 50.9L76.2 50.0L76.5 49.0L76.7 48.0L76.9 47.0L77.1 46.1L77.3 45.1L77.6 44.1L77.8 43.1L78.0 42.2L78.2 41.2L78.4 40.2L78.7 39.2L78.9 38.3L79.1 37.3L79.3 36.3L79.6 35.3L79.8 34.4L80.1 33.4L80.3 32.4L80.6 31.5L80.9 30.5L81.3 29.6L81.6 28.6L82.1 27.7L82.5 26.7L83.1 25.8L83.6 25.0L84.3 24.2L84.9 23.5L85.7 22.9L86.5 22.5L87.3 22.2L88.2 22.0L89.2 22.0L90.1 22.2L91.1 22.4L92.0 22.8L93.0 23.2L93.9 23.8L94.8 24.3L95.7 24.9L96.5 25.5L97.3 26.1L98.1 26.8L98.9 27.4L99.6 28.1L100.4 28.7L101.2 29.3L101.9 29.9L102.7 30.5L103.6 31.1L104.4 31.6L105.3 32.1L106.1 32.6L107.0 33.1L107.9 33.6L108.8 34.1L109.6 34.6L110.5 35.1L111.4 35.5L112.3 36.0L113.2 36.5L114.0 37.0L114.9 37.4L115.8 37.9L116.7 38.3L117.6 38.7L118.5 39.1L119.4 39.5L120.3 39.9L121.2 40.2L122.1 40.5L123.0 40.8L124.0 41.1L125.0 41.3L125.9 41.5L126.9 41.7L127.9 41.9L128.9 42.0L130.0 42.0L131.0 42.0L132.1 42.0L133.1 42.0L134.2 41.9L135.3 41.7L136.3 41.5L137.3 41.3L138.3 41.0L139.2 40.6L140.1 40.2L141.0 39.8L141.8 39.3L142.6 38.8L143.3 38.2L144.0 37.6L144.7 36.9L145.3 36.2L145.9 35.4L146.5 34.6L147.1 33.8L147.7 33.0L148.3 32.1L148.9 31.2L149.5 30.3L150.2 29.5L150.9 28.7L151.7 28.0L152.5 27.4L153.4 26.9L154.3 26.5L155.1 26.2L156.0 26.1L156.8 26.1L157.5 26.4L158.1 26.8L158.6 27.4L159.1 28.1L159.5 29.0L159.9 29.9L160.2 31.0L160.5 32.1L160.9 33.2L161.2 34.4L161.6 35.5L162.0 36.7L162.5 37.8L163.0 38.8L163.5 39.8L164.1 40.8L164.7 41.6L165.3 42.4L166.0 43.1L166.7 43.6L167.4 44.1L168.1 44.4L168.9 44.6L169.7 44.6L170.5 44.5L171.4 44.2L172.2 43.8L173.1 43.2L173.9 42.6L174.7 41.9L175.6 41.0L176.4 40.2L177.1 39.3L177.9 38.4L178.6 37.5L179.3 36.7L179.9 35.9L180.6 35.3L181.3 34.8L182.0 34.4L182.7 34.3L183.4 34.4L184.2 34.7L184.9 35.1L185.7 35.8L186.4 36.5L187.1 37.3L187.8 38.1L188.5 39.0L189.2 39.8L189.9 40.7L190.6 41.5L191.3 42.3L192.0 43.0L192.7 43.7L193.5 44.3L194.3 44.8L195.1 45.4L195.9 45.9L196.7 46.5L197.5 47.0L198.3 47.6L199.1 48.2L199.9 48.8L200.7 49.4L201.5 50.0L202.2 50.6L203.0 51.1L203.8 51.7L204.6 52.3L205.4 52.8L206.2 53.3L207.1 53.9L207.9 54.4L208.6 55.0L209.4 55.6L210.2 56.2L211.0 56.8L211.8 57.4L212.6 58.1L213.3 58.8L214.1 59.5L214.8 60.2L215.5 61.0L216.2 61.8L216.9 62.6L217.5 63.4L218.1 64.2L218.7 65.0L219.3 65.9L219.8 66.7L220.3 67.6L220.7 68.5L221.2 69.3L221.6 70.2L222.0 71.1L222.4 72.0L222.8 72.9L223.1 73.9L223.5 74.8L223.8 75.7L224.1 76.7L224.4 77.6L224.7 78.6L225.0 79.5L225.2 80.5L225.5 81.5L225.7 82.4L225.9 83.4L226.2 84.4L226.4 85.3L226.6 86.3L226.8 87.3L227.0 88.3L227.3 89.3L227.5 90.2L227.7 91.2L227.9 92.2L228.1 93.2L228.4 94.1L228.6 95.1L228.8 96.1L229.1 97.0L229.3 98.0L229.6 99.0L229.9 99.9L230.1 100.9L230.4 101.8L230.7 102.8L231.0 103.7L231.3 104.7L231.7 105.6L232.0 106.5L232.3 107.5L232.7 108.4L233.0 109.3L233.4 110.2L233.8 111.1L234.2 112.0L234.6 113.0L235.0 113.9L235.4 114.7L235.9 115.6L236.3 116.5L236.8 117.4L237.3 118.3L237.8 119.2L238.3 120.0L238.8 120.9L239.3 121.8L239.9 122.6L240.4 123.5L241.0 124.3L241.6 125.1L242.2 126.0L242.8 126.8L243.4 127.6L244.0 128.4L244.6 129.2L245.2 130.0L245.9 130.8L246.5 131.6L247.2 132.4L247.8 133.1L248.4 133.9L249.1 134.6L249.7 135.4L250.4 136.1L251.0 136.8L251.7 137.5L252.3 138.2L253.0 138.9L253.6 139.6L254.3 140.2L255.1 140.6L255.9 141.0L256.9 141.0L258.0 140.9L259.4 140.4L260.9 139.5" stroke="#f010f0"/>
<path d="M38.5 198.4L38.6 197.4L38.8 196.4L38.9 195.5L39.0 194.5L39.1 193.5L39.3 192.5L39.4 191.5L39.5 190.5L39.6 189.5L39.7 188.5L39.9 187.5L40.0 186.5L40.1 185.5L40.2 184.5L40.4 183.5L40.5 182.5L40.7 181.5L40.8 180.5L41.0 179.6L41.2 178.6L41.4 177.6L41.6 176.6L41.8 175.6L42.0 174.6L42.2 173.7L42.5 172.7L42.7 171.7L43.0 170.8L43.3 169.8L43.6 168.9L43.9 167.9L44.2 167.0L44.6 166.1L45.0 165.1L45.4 164.2L45.8 163.3L46.2 162.4L46.6 161.5L47.0 160.6L47.5 159.7L47.9 158.8L48.4 157.9L48.8 157.0L49.3 156.1L49.7 155.2L50.2 154.3L50.6 153.4L51.1 152.5L51.5 151.6L51.9 150.7L52.4 149.8L52.8 148.9L53.2 148.0L53.6 147.1L54.0 146.2L54.3 145.3L54.7 144.3L55.0 143.4L55.3 142.5L55.6 141.5L55.9 140.6L56.2 139.6L56.5 138.7L56.8 137.7L57.0 136.8L57.3 135.8L57.6 134.8L57.8 133.9L58.1 132.9L58.3 131.9L58.6 131.0L58.8 130.0L59.1 129.1L59.3 128.1L59.6 127.1L59.8 126.2L60.1 125.2L60.3 124.2L60.6 123.2L60.8 122.3L61.1 121.3L61.3 120.3L61.5 119.4L61.8 118.4L62.0 117.4L62.3 116.5L62.5 115.5L62.7 114.5L63.0 113.5L63.2 112.6L63.5 111.6L63.7 110.6L63.9 109.6L64.2 108.7L64.4 107.7L64.7 106.7L64.9 105.8L65.1 104.8L65.4 103.8L65.6 102.8L65.8 101.9L66.1 100.9L66.3 99.9L66.5 98.9L66.8 98.0L67.0 97.0L67.2 96.0L67.5 95.0L67.7 94.1L67.9 93.1L68.1 92.1L68.4 91.1L68.6 90.2L68.8 89.2L69.1 88.2L69.3 87.3L69.5 86.3L69.8 85.3L70.0 84.3L70.2 83.4L70.4 82.4L70.7 81.4L70.9 80.5L71.1 79.5L71.4 78.5L71.6 77.6L71.8 76.6L72.0 75.6L72.3 74.7L72.5 73.7L72.7 72.7L73.0 71.8L73.2 70.8L73.4 69.8L73.6 68.9L73.9 67.9L74.1 67.0L74.3 66.0L74.6 65.0L74.8 64.1L75.0 63.1L75.2 62.1L75.5 61.2L75.7 60.2L75.9 59.2L76.1 58.3L76.4 57.3L76.6 56.3L76.8 55.3L77.0 54.4L77.3 53.4L77.5 52.4L77.7 51.4L77.9 50.4L78.2 49.5L78.4 48.5L78.6 47.5L78.8 46.5L79.0 45.5L79.3 44.5L79.5 43.5L79.7 42.5L79.9 41.5L80.2 40.5L80.4 39.6L80.7 38.6L81.0 37.6L81.4 36.7L81.7 35.8L82.1 34.8L82.5 34.0L83.0 33.1L83.5 32.3L84.0 31.5L84.7 30.7L85.3 29.9L86.0 29.2L86.8 28.5L87.6 27.9L88.5 27.3L89.4 26.8L90.3 26.4L91.2 26.1L92.2 25.9L93.1 25.7L94.1 25.7L95.0 25.7L96.0 25.8L96.9 25.9L97.9 26.1L98.8 26.3L99.8 26.6L100.7 26.9L101.7 27.2L102.7 27.5L103.6 27.8L104.6 28.1L105.6 28.5L106.6 28.8L107.5 29.1L108.5 29.4L109.5 29.8L110.5 30.1L111.4 30.4L112.4 30.7L113.4 31.0L114.4 31.3L115.4 31.6L116.3 31.8L117.3 32.1L118.3 32.3L119.3 32.5L120.3 32.7L121.2 32.9L122.2 33.0L123.2 33.2L124.2 33.3L125.1 33.3L126.1 33.4L127.1 33.4L128.0 33.4L129.0 33.4L130.0 33.3L130.9 33.2L131.9 33.1L132.8 32.9L133.8 32.7L134.7 32.5L135.7 32.2L136.6 32.0L137.6 31.7L138.5 31.3L139.5 31.0L140.4 30.6L141.3 30.2L142.3 29.8L143.2 29.4L144.1 28.9L145.1 28.4L146.0 27.9L146.9 27.4L147.8 26.9L148.7 26.4L149.6 25.8L150.5 25.3L151.4 24.7L152.3 24.2L153.2 23.7L154.1 23.3L155.0 22.9L155.8 22.5L156.7 22.2L157.6 22.1L158.4 22.0L159.2 22.0L160.1 22.1L160.9 22.4L161.7 22.8L162.4 23.3L163.2 24.0L164.0 24.8L164.7 25.7L165.5 26.6L166.2 27.5L167.0 28.3L167.7 29.0L168.5 29.5L169.3 29.8L170.1 29.9L170.9 29.7L171.7 29.3L172.6 28.8L173.4 28.2L174.3 27.6L175.2 27.0L176.1 26.4L177.1 26.0L178.0 25.5L179.0 25.2L179.9 24.9L180.9 24.7L181.8 24.6L182.8 24.6L183.7 24.7L184.7 24.8L185.6 25.0L186.6 25.3L187.5 25.6L188.4 26.0L189.3 26.4L190.2 26.9L191.1 27.4L191.9 28.0L192.8 28.6L193.6 29.2L194.4 29.9L195.2 30.5L196.0 31.2L196.7 31.9L197.5 32.6L198.2 33.4L198.9 34.1L199.5 34.8L200.2 35.6L200.8 36.3L201.5 37.1L202.1 37.9L202.7 38.7L203.3 39.5L203.8 40.3L204.4 41.1L204.9 41.9L205.5 42.7L206.0 43.5L206.6 44.3L207.1 45.2L207.6 46.0L208.1 46.8L208.6 47.7L209.1 48.5L209.7 49.4L210.1 50.2L210.6 51.1L211.1 51.9L211.6 52.8L212.1 53.7L212.6 54.6L213.0 55.4L213.5 56.3L213.9 57.2L214.4 58.1L214.8 59.0L215.3 59.9L215.7 60.8L216.2 61.7L216.6 62.6L217.0 63.5L217.4 64.4L217.8 65.3L218.2 66.3L218.6 67.2L219.0 68.1L219.4 69.0L219.8 70.0L220.2 70.9L220.5 71.8L220.9 72.8L221.3 73.7L221.6 74.7L222.0 75.6L222.3 76.6L222.6 77.5L223.0 78.5L223.3 79.4L223.6 80.4L223.9 81.3L224.2 82.3L224.5 83.2L224.8 84.2L225.1 85.2L225.4 86.1L225.6 87.1L225.9 88.1L226.2 89.0L226.4 90.0L226.7 91.0L226.9 91.9L227.1 92.9L227.4 93.9L227.6 94.8L227.8 95.8L228.1 96.8L228.3 97.7L228.6 98.7L228.8 99.7L229.1 100.6L229.4 101.6L229.7 102.5L230.0 103.5L230.3 104.4L230.6 105.3L231.0 106.2L231.3 107.1L231.7 108.0L232.1 108.9L232.6 109.8L233.0 110.7L233.5 111.6L234.0 112.5L234.5 113.3L235.0 114.2L235.6 115.0L236.1 115.9L236.7 116.7L237.2 117.6L237.8 118.4L238.3 119.3L238.9 120.1L239.4 121.0L240.0 121.8L240.5 122.7L241.1 123.5L241.6 124.4L242.1 125.2L242.6 126.1L243.1 127.0L243.6 127.9L244.1 128.7L244.6 129.6L245.1 130.4L245.6 131.2L246.2 132.0L246.8 132.8L247.4 133.6L248.1 134.3L248.8 135.0L249.6 135.7L250.4 136.3L251.2 136.9L252.1 137.4L253.0 137.8L253.9 138.2L254.9 138.6L255.9 138.8L256.8 139.0L257.8 139.1L258.9 139.1L259.9 139.1L260.9 138.9" stroke="#f78f1c"/>
<path d="M38.5 198.4L38.6 197.4L38.8 196.5L38.9 195.5L39.0 194.5L39.1 193.5L39.2 192.5L39.4 191.5L39.5 190.5L39.6 189.5L39.7 188.5L39.8 187.5L40.0 186.5L40.1 185.5L40.2 184.5L40.4 183.5L40.5 182.5L40.7 181.5L40.8 180.5L41.0 179.6L41.2 178.6L41.4 177.6L41.6 176.6L41.8 175.6L42.0 174.6L42.3 173.7L42.5 172.7L42.8 171.7L43.0 170.8L43.3 169.8L43.6 168.9L43.9 167.9L44.3 167.0L44.6 166.1L45.0 165.2L45.4 164.2L45.8 163.3L46.2 162.4L46.6 161.5L47.0 160.6L47.4 159.7L47.9 158.8L48.3 157.9L48.7 157.0L49.2 156.1L49.6 155.3L50.1 154.4L50.5 153.5L50.9 152.6L51.4 151.7L51.8 150.8L52.2 149.9L52.7 149.0L53.1 148.1L53.5 147.2L53.9 146.2L54.2 145.3L54.6 144.4L55.0 143.4L55.3 142.5L55.6 141.6L55.9 140.6L56.3 139.7L56.6 138.7L56.9 137.7L57.1 136.8L57.4 135.8L57.7 134.9L58.0 133.9L58.3 132.9L58.6 132.0L58.8 131.0L59.1 130.0L59.4 129.1L59.7 128.1L60.0 127.2L60.2 126.2L60.5 125.2L60.8 124.3L61.1 123.3L61.3 122.4L61.6 121.4L61.9 120.4L62.2 119.5L62.4 118.5L62.7 117.6L63.0 116.6L63.3 115.6L63.5 114.7L63.8 113.7L64.1 112.8L64.4 111.8L64.6 110.9L64.9 109.9L65.2 109.0L65.5 108.0L65.8 107.0L66.0 106.1L66.3 105.1L66.6 104.2L66.9 103.2L67.2 102.3L67.5 101.3L67.7 100.4L68.0 99.4L68.3 98.5L68.6 97.5L68.9 96.6L69.2 95.6L69.5 94.7L69.8 93.7L70.1 92.8L70.4 91.8L70.7 90.9L71.0 90.0L71.3 89.0L71.6 88.1L72.0 87.1L72.3 86.2L72.6 85.2L72.9 84.3L73.2 83.4L73.6 82.4L73.9 81.5L74.2 80.5L74.6 79.6L74.9 78.7L75.2 77.7L75.6 76.8L75.9 75.8L76.3 74.9L76.6 74.0L77.0 73.0L77.3 72.1L77.7 71.2L78.1 70.2L78.4 69.3L78.8 68.4L79.2 67.4L79.6 66.5L80.0 65.6L80.4 64.7L80.7 63.7L81.1 62.8L81.5 61.9L82.0 61.0L82.4 60.0L82.8 59.1L83.2 58.2L83.6 57.3L84.1 56.4L84.5 55.4L85.0 54.5L85.4 53.7L85.9 52.8L86.4 51.9L86.8 51.0L87.3 50.1L87.9 49.3L88.4 48.4L88.9 47.6L89.5 46.8L90.0 46.0L90.6 45.2L91.2 44.4L91.8 43.6L92.4 42.8L93.0 42.1L93.7 41.4L94.4 40.6L95.1 40.0L95.8 39.3L96.5 38.6L97.2 38.0L98.0 37.4L98.8 36.8L99.6 36.2L100.4 35.6L101.2 35.0L102.1 34.5L102.9 34.0L103.8 33.5L104.6 33.0L105.5 32.5L106.4 32.1L107.3 31.6L108.2 31.2L109.2 30.8L110.1 30.3L111.0 29.9L112.0 29.6L112.9 29.2L113.8 28.8L114.8 28.5L115.7 28.1L116.7 27.8L117.6 27.5L118.6 27.1L119.5 26.8L120.5 26.5L121.4 26.2L122.4 26.0L123.3 25.7L124.3 25.4L125.3 25.2L126.2 24.9L127.2 24.6L128.1 24.4L129.1 24.1L130.1 23.9L131.0 23.7L132.0 23.4L133.0 23.2L133.9 23.0L134.9 22.8L135.9 22.5L136.9 22.3L137.8 22.1L138.8 21.9L139.8 21.7L140.7 21.5L141.7 21.3L142.7 21.0L143.7 20.8L144.6 20.6L145.6 20.4L146.6 20.2L147.6 20.0L148.5 19.9L149.5 19.7L150.5 19.5L151.5 19.4L152.5 19.2L153.5 19.1L154.4 19.0L155.4 18.9L156.4 18.8L157.4 18.7L158.4 18.7L159.4 18.6L160.4 18.6L161.4 18.6L162.4 18.6L163.4 18.7L164.4 18.7L165.4 18.8L166.4 18.9L167.4 19.0L168.4 19.1L169.4 19.2L170.4 19.3L171.4 19.5L172.4 19.7L173.4 19.9L174.4 20.1L175.4 20.3L176.4 20.5L177.3 20.8L178.3 21.0L179.3 21.3L180.3 21.6L181.2 22.0L182.1 22.3L183.0 22.8L183.9 23.2L184.7 23.7L185.5 24.2L186.2 24.8L186.9 25.5L187.5 26.2L188.0 27.0L188.4 27.9L188.8 28.8L189.2 29.8L189.5 30.8L189.8 31.8L190.1 32.8L190.5 33.8L190.8 34.8L191.1 35.8L191.4 36.7L191.7 37.7L192.1 38.6L192.4 39.6L192.8 40.5L193.2 41.4L193.6 42.3L194.0 43.2L194.4 44.1L194.8 44.9L195.3 45.8L195.8 46.6L196.3 47.5L196.8 48.3L197.4 49.1L198.0 49.9L198.6 50.7L199.2 51.4L199.8 52.2L200.4 53.0L201.1 53.7L201.7 54.5L202.4 55.3L203.0 56.1L203.6 56.9L204.2 57.7L204.8 58.5L205.3 59.3L205.9 60.1L206.4 60.9L207.0 61.7L207.5 62.6L208.0 63.4L208.5 64.3L209.0 65.1L209.5 66.0L210.0 66.8L210.5 67.7L211.0 68.6L211.4 69.5L211.9 70.3L212.4 71.2L212.8 72.1L213.2 73.0L213.7 73.9L214.1 74.8L214.5 75.7L215.0 76.6L215.4 77.5L215.8 78.4L216.2 79.3L216.6 80.2L217.0 81.2L217.4 82.1L217.8 83.0L218.2 83.9L218.6 84.8L219.0 85.7L219.4 86.7L219.8 87.6L220.2 88.5L220.6 89.4L221.0 90.4L221.4 91.3L221.8 92.2L222.2 93.1L222.6 94.0L223.0 95.0L223.4 95.9L223.8 96.8L224.2 97.7L224.6 98.6L225.0 99.5L225.5 100.4L225.9 101.3L226.3 102.2L226.8 103.1L227.2 104.0L227.7 104.9L228.1 105.8L228.6 106.7L229.0 107.6L229.5 108.5L230.0 109.3L230.5 110.2L231.0 111.1L231.5 111.9L232.0 112.8L232.5 113.6L233.1 114.5L233.6 115.3L234.1 116.2L234.7 117.0L235.2 117.8L235.8 118.7L236.3 119.5L236.9 120.3L237.5 121.1L238.1 121.9L238.7 122.7L239.3 123.5L239.9 124.3L240.5 125.1L241.1 125.9L241.7 126.7L242.4 127.5L243.0 128.2L243.6 129.0L244.3 129.7L245.0 130.5L245.6 131.2L246.3 132.0L247.0 132.7L247.7 133.4L248.4 134.2L249.1 134.9L249.8 135.5L250.5 136.2L251.3 136.8L252.1 137.4L252.9 137.9L253.8 138.3L254.6 138.7L255.6 139.0L256.5 139.2L257.5 139.3L258.6 139.3L259.7 139.2L260.9 138.9" stroke="#85922a"/>
</g>
<line x1="100.0" y1="72.1" x2="123.6" y2="72.1" stroke="#e62828" stroke-width="1.7"/>
<text x="126.0" y="75.5" class="lg">r=0.5um</text>
<line x1="100.0" y1="84.2" x2="123.6" y2="84.2" stroke="#10e810" stroke-width="1.7"/>
<text x="126.0" y="87.6" class="lg">r=1um</text>
<line x1="100.0" y1="97.3" x2="123.6" y2="97.3" stroke="#0a0ad8" stroke-width="1.7"/>
<text x="126.0" y="100.7" class="lg">r=1.5um</text>
<line x1="100.0" y1="110.1" x2="123.6" y2="110.1" stroke="#10e8ee" stroke-width="1.7"/>
<text x="126.0" y="113.5" class="lg">r=2um</text>
<line x1="100.0" y1="122.2" x2="123.6" y2="122.2" stroke="#f010f0" stroke-width="1.7"/>
<text x="126.0" y="125.6" class="lg">r=2.5um</text>
<line x1="100.0" y1="134.8" x2="123.6" y2="134.8" stroke="#f78f1c" stroke-width="1.7"/>
<text x="126.0" y="138.2" class="lg">r=3um</text>
<line x1="100.0" y1="147.1" x2="123.6" y2="147.1" stroke="#85922a" stroke-width="1.7"/>
<text x="126.0" y="150.5" class="lg">r=3.5um</text>
<text x="150" y="227.3" text-anchor="middle" class="ax">Frequency(THz)</text>
<text transform="translate(14.7 108.6) rotate(-90)" text-anchor="middle" class="ax">Absorption</text>
<text x="4.5" y="14.5" class="pl">(a)</text>
<line x1="316.80" y1="36.5" x2="542.0" y2="36.5" stroke="#111" stroke-width="1.4" stroke-dasharray="4.8 4.41"/>
<path d="M315.2 18.3H542.8 M315.2 200.2H542.8" stroke="#333" stroke-width="1.35" fill="none"/>
<path d="M316.0 17.7V200.8 M542.0 17.7V200.8" stroke="#555" stroke-width="1.90" fill="none"/>
<line x1="312.6" y1="200.2" x2="316.0" y2="200.2" stroke="#2a2a2a" stroke-width="1"/>
<text x="310.0" y="203.5" text-anchor="end" class="tk">0.0</text>
<line x1="314.2" y1="182.0" x2="316.0" y2="182.0" stroke="#2a2a2a" stroke-width="1"/>
<line x1="312.6" y1="163.8" x2="316.0" y2="163.8" stroke="#2a2a2a" stroke-width="1"/>
<text x="310.0" y="167.1" text-anchor="end" class="tk">0.2</text>
<line x1="314.2" y1="145.6" x2="316.0" y2="145.6" stroke="#2a2a2a" stroke-width="1"/>
<line x1="312.6" y1="127.4" x2="316.0" y2="127.4" stroke="#2a2a2a" stroke-width="1"/>
<text x="310.0" y="130.7" text-anchor="end" class="tk">0.4</text>
<line x1="314.2" y1="109.2" x2="316.0" y2="109.2" stroke="#2a2a2a" stroke-width="1"/>
<line x1="312.6" y1="91.1" x2="316.0" y2="91.1" stroke="#2a2a2a" stroke-width="1"/>
<text x="310.0" y="94.4" text-anchor="end" class="tk">0.6</text>
<line x1="314.2" y1="72.9" x2="316.0" y2="72.9" stroke="#2a2a2a" stroke-width="1"/>
<line x1="312.6" y1="54.7" x2="316.0" y2="54.7" stroke="#2a2a2a" stroke-width="1"/>
<text x="310.0" y="58.0" text-anchor="end" class="tk">0.8</text>
<line x1="314.2" y1="36.5" x2="316.0" y2="36.5" stroke="#2a2a2a" stroke-width="1"/>
<line x1="312.6" y1="18.3" x2="316.0" y2="18.3" stroke="#2a2a2a" stroke-width="1"/>
<text x="310.0" y="21.6" text-anchor="end" class="tk">1.0</text>
<line x1="316.0" y1="200.2" x2="316.0" y2="203.6" stroke="#2a2a2a" stroke-width="1"/>
<text x="316.0" y="214.3" text-anchor="middle" class="tk">0</text>
<line x1="338.6" y1="200.2" x2="338.6" y2="202.0" stroke="#2a2a2a" stroke-width="1"/>
<line x1="361.2" y1="200.2" x2="361.2" y2="203.6" stroke="#2a2a2a" stroke-width="1"/>
<text x="361.2" y="214.3" text-anchor="middle" class="tk">5</text>
<line x1="383.8" y1="200.2" x2="383.8" y2="202.0" stroke="#2a2a2a" stroke-width="1"/>
<line x1="406.4" y1="200.2" x2="406.4" y2="203.6" stroke="#2a2a2a" stroke-width="1"/>
<text x="406.4" y="214.3" text-anchor="middle" class="tk">10</text>
<line x1="429.0" y1="200.2" x2="429.0" y2="202.0" stroke="#2a2a2a" stroke-width="1"/>
<line x1="451.6" y1="200.2" x2="451.6" y2="203.6" stroke="#2a2a2a" stroke-width="1"/>
<text x="451.6" y="214.3" text-anchor="middle" class="tk">15</text>
<line x1="474.2" y1="200.2" x2="474.2" y2="202.0" stroke="#2a2a2a" stroke-width="1"/>
<line x1="496.8" y1="200.2" x2="496.8" y2="203.6" stroke="#2a2a2a" stroke-width="1"/>
<text x="496.8" y="214.3" text-anchor="middle" class="tk">20</text>
<line x1="519.4" y1="200.2" x2="519.4" y2="202.0" stroke="#2a2a2a" stroke-width="1"/>
<line x1="542.0" y1="200.2" x2="542.0" y2="203.6" stroke="#2a2a2a" stroke-width="1"/>
<text x="542.0" y="214.3" text-anchor="middle" class="tk">25</text>
<clipPath id="cr"><rect x="316.0" y="17.3" width="226.0" height="183.9"/></clipPath>
<g clip-path="url(#cr)" fill="none" stroke-width="1.7" stroke-linejoin="round" stroke-linecap="round">
<path d="M316.0 200.2L316.2 199.2L316.4 198.2L316.6 197.3L316.8 196.3L316.9 195.3L317.1 194.3L317.3 193.4L317.5 192.4L317.7 191.4L318.0 190.4L318.2 189.4L318.4 188.5L318.6 187.5L318.8 186.5L319.0 185.5L319.3 184.6L319.5 183.6L319.8 182.6L320.0 181.7L320.3 180.7L320.5 179.7L320.8 178.8L321.0 177.8L321.3 176.8L321.6 175.9L321.9 174.9L322.2 174.0L322.5 173.0L322.8 172.1L323.1 171.1L323.4 170.2L323.8 169.3L324.1 168.3L324.5 167.4L324.8 166.5L325.2 165.5L325.6 164.6L326.0 163.7L326.3 162.8L326.7 161.8L327.1 160.9L327.5 160.0L327.9 159.1L328.3 158.2L328.7 157.2L329.1 156.3L329.5 155.4L329.8 154.5L330.2 153.6L330.6 152.6L330.9 151.7L331.3 150.8L331.6 149.8L332.0 148.9L332.3 147.9L332.6 147.0L332.9 146.1L333.2 145.1L333.5 144.1L333.8 143.2L334.1 142.2L334.4 141.3L334.6 140.3L334.9 139.4L335.2 138.4L335.5 137.4L335.7 136.5L336.0 135.5L336.3 134.6L336.6 133.6L336.9 132.7L337.2 131.7L337.5 130.8L337.8 129.8L338.1 128.9L338.4 127.9L338.8 127.0L339.1 126.1L339.5 125.1L339.8 124.2L340.2 123.3L340.5 122.3L340.9 121.4L341.3 120.5L341.7 119.6L342.0 118.6L342.4 117.7L342.8 116.8L343.2 115.9L343.6 115.0L344.0 114.0L344.4 113.1L344.8 112.2L345.2 111.3L345.6 110.4L345.9 109.4L346.3 108.5L346.7 107.6L347.1 106.7L347.5 105.8L347.9 104.8L348.2 103.9L348.6 103.0L349.0 102.1L349.4 101.1L349.7 100.2L350.1 99.3L350.4 98.3L350.8 97.4L351.1 96.4L351.4 95.5L351.8 94.6L352.1 93.6L352.4 92.7L352.8 91.7L353.1 90.8L353.4 89.8L353.8 88.9L354.1 87.9L354.4 87.0L354.8 86.1L355.1 85.1L355.5 84.2L355.8 83.3L356.2 82.3L356.5 81.4L356.9 80.5L357.2 79.5L357.6 78.6L358.0 77.7L358.4 76.8L358.8 75.8L359.1 74.9L359.5 74.0L359.9 73.1L360.3 72.2L360.7 71.3L361.1 70.4L361.5 69.5L362.0 68.6L362.4 67.7L362.8 66.8L363.2 65.9L363.7 65.0L364.1 64.1L364.5 63.2L365.0 62.3L365.4 61.4L365.9 60.5L366.3 59.6L366.8 58.7L367.2 57.8L367.7 56.9L368.1 56.1L368.6 55.2L369.1 54.3L369.6 53.4L370.0 52.5L370.5 51.7L371.0 50.8L371.5 49.9L372.0 49.1L372.5 48.2L373.0 47.3L373.5 46.5L374.0 45.6L374.6 44.8L375.1 43.9L375.6 43.0L376.2 42.2L376.7 41.4L377.3 40.5L377.8 39.7L378.4 38.8L378.9 38.0L379.5 37.2L380.1 36.4L380.7 35.5L381.3 34.7L381.9 33.9L382.5 33.1L383.1 32.4L383.8 31.6L384.5 30.9L385.2 30.2L385.9 29.5L386.6 28.9L387.4 28.3L388.2 27.7L389.0 27.1L389.8 26.6L390.7 26.1L391.5 25.6L392.4 25.1L393.3 24.7L394.2 24.3L395.1 23.9L396.0 23.5L397.0 23.1L397.9 22.8L398.8 22.5L399.8 22.2L400.8 21.9L401.7 21.6L402.7 21.4L403.7 21.1L404.6 20.9L405.6 20.7L406.6 20.5L407.6 20.3L408.6 20.1L409.6 19.9L410.6 19.8L411.5 19.7L412.5 19.5L413.5 19.4L414.5 19.3L415.5 19.2L416.5 19.1L417.6 19.0L418.6 19.0L419.6 18.9L420.6 18.9L421.6 18.8L422.6 18.8L423.6 18.8L424.6 18.7L425.6 18.7L426.6 18.7L427.6 18.7L428.6 18.7L429.6 18.7L430.6 18.7L431.5 18.8L432.5 18.8L433.5 18.9L434.5 18.9L435.5 19.0L436.5 19.1L437.4 19.2L438.4 19.3L439.4 19.5L440.4 19.6L441.3 19.8L442.3 20.0L443.3 20.3L444.2 20.5L445.2 20.8L446.2 21.1L447.1 21.4L448.1 21.7L449.0 22.1L450.0 22.4L450.9 22.8L451.8 23.2L452.8 23.6L453.7 24.1L454.6 24.5L455.5 25.0L456.4 25.5L457.2 26.0L458.1 26.5L458.9 27.0L459.7 27.6L460.5 28.2L461.2 28.8L462.0 29.5L462.6 30.2L463.3 30.9L463.9 31.6L464.4 32.4L464.9 33.2L465.4 34.1L465.9 35.0L466.3 35.8L466.7 36.8L467.1 37.7L467.5 38.6L467.8 39.6L468.1 40.5L468.4 41.5L468.7 42.5L469.0 43.5L469.2 44.4L469.5 45.4L469.7 46.4L470.0 47.4L470.3 48.4L470.5 49.4L470.8 50.3L471.1 51.3L471.3 52.3L471.6 53.2L472.0 54.2L472.3 55.1L472.6 56.0L473.0 56.9L473.4 57.7L473.9 58.6L474.3 59.4L474.8 60.2L475.4 61.0L475.9 61.8L476.5 62.5L477.2 63.2L477.9 63.9L478.6 64.5L479.4 65.2L480.2 65.8L480.9 66.4L481.7 67.0L482.5 67.7L483.3 68.3L484.1 68.9L484.9 69.6L485.6 70.3L486.4 70.9L487.1 71.6L487.8 72.4L488.5 73.1L489.2 73.8L489.8 74.6L490.4 75.4L491.0 76.1L491.6 76.9L492.2 77.7L492.8 78.6L493.3 79.4L493.8 80.2L494.4 81.1L494.9 81.9L495.4 82.8L495.8 83.7L496.3 84.6L496.8 85.5L497.2 86.4L497.6 87.3L498.1 88.2L498.5 89.1L498.9 90.0L499.3 91.0L499.7 91.9L500.1 92.8L500.5 93.8L500.9 94.7L501.2 95.6L501.6 96.6L502.0 97.5L502.4 98.5L502.7 99.4L503.1 100.3L503.5 101.3L503.8 102.2L504.2 103.1L504.6 104.0L505.0 105.0L505.3 105.9L505.7 106.8L506.1 107.7L506.5 108.6L507.0 109.5L507.4 110.4L507.8 111.3L508.3 112.1L508.7 113.0L509.2 113.9L509.7 114.7L510.2 115.6L510.7 116.4L511.3 117.3L511.8 118.1L512.4 118.9L513.0 119.7L513.6 120.5L514.2 121.3L514.9 122.0L515.5 122.8L516.2 123.5L516.9 124.3L517.6 125.0L518.3 125.7L519.0 126.4L519.8 127.0L520.5 127.7L521.3 128.3L522.1 129.0L522.9 129.6L523.7 130.2L524.5 130.8L525.3 131.3L526.1 131.8L527.0 132.4L527.9 132.9L528.7 133.3L529.6 133.8L530.5 134.2L531.4 134.6L532.3 135.0L533.3 135.4L534.2 135.8L535.1 136.1L536.1 136.4L537.1 136.7L538.0 136.9L539.0 137.1L540.0 137.3L541.0 137.5" stroke="#e62828"/>
<path d="M316.0 200.2L316.1 199.2L316.3 198.2L316.5 197.2L316.6 196.3L316.8 195.3L317.0 194.3L317.1 193.3L317.3 192.3L317.5 191.3L317.7 190.4L317.9 189.4L318.1 188.4L318.3 187.4L318.6 186.5L318.8 185.5L319.0 184.5L319.3 183.5L319.5 182.6L319.8 181.6L320.0 180.6L320.3 179.7L320.6 178.7L320.8 177.8L321.1 176.8L321.4 175.8L321.7 174.9L322.0 173.9L322.3 173.0L322.6 172.0L322.9 171.1L323.2 170.2L323.6 169.2L323.9 168.3L324.3 167.3L324.6 166.4L325.0 165.5L325.3 164.5L325.7 163.6L326.0 162.7L326.4 161.7L326.8 160.8L327.1 159.9L327.5 159.0L327.9 158.0L328.3 157.1L328.6 156.2L329.0 155.3L329.4 154.3L329.7 153.4L330.1 152.5L330.5 151.6L330.8 150.6L331.2 149.7L331.5 148.8L331.9 147.8L332.2 146.9L332.5 145.9L332.9 145.0L333.2 144.1L333.5 143.1L333.8 142.2L334.1 141.2L334.4 140.3L334.8 139.3L335.1 138.4L335.4 137.4L335.7 136.5L335.9 135.5L336.2 134.6L336.5 133.6L336.8 132.7L337.1 131.7L337.4 130.7L337.7 129.8L338.0 128.8L338.2 127.9L338.5 126.9L338.8 126.0L339.1 125.0L339.4 124.0L339.6 123.1L339.9 122.1L340.2 121.2L340.5 120.2L340.8 119.2L341.0 118.3L341.3 117.3L341.6 116.4L341.9 115.4L342.1 114.4L342.4 113.5L342.7 112.5L343.0 111.5L343.2 110.6L343.5 109.6L343.8 108.7L344.1 107.7L344.3 106.7L344.6 105.8L344.9 104.8L345.1 103.9L345.4 102.9L345.7 101.9L346.0 101.0L346.2 100.0L346.5 99.0L346.8 98.1L347.1 97.1L347.3 96.2L347.6 95.2L347.9 94.3L348.2 93.3L348.4 92.3L348.7 91.4L349.0 90.4L349.3 89.5L349.6 88.5L349.8 87.6L350.1 86.6L350.4 85.6L350.7 84.7L351.0 83.7L351.3 82.8L351.5 81.8L351.8 80.9L352.1 79.9L352.4 79.0L352.7 78.0L353.0 77.1L353.3 76.1L353.6 75.2L353.9 74.2L354.2 73.3L354.5 72.4L354.8 71.4L355.2 70.5L355.5 69.5L355.8 68.6L356.1 67.6L356.4 66.7L356.8 65.8L357.1 64.8L357.5 63.9L357.8 63.0L358.2 62.0L358.5 61.1L358.9 60.2L359.2 59.2L359.6 58.3L360.0 57.4L360.4 56.4L360.7 55.5L361.1 54.6L361.5 53.7L361.9 52.7L362.4 51.8L362.8 50.9L363.2 50.0L363.6 49.1L364.1 48.2L364.5 47.3L365.0 46.4L365.5 45.5L365.9 44.6L366.4 43.7L366.9 42.9L367.4 42.0L367.9 41.1L368.5 40.3L369.0 39.4L369.6 38.6L370.1 37.8L370.7 37.0L371.3 36.2L371.9 35.4L372.5 34.6L373.2 33.8L373.8 33.1L374.5 32.4L375.1 31.6L375.8 30.9L376.5 30.2L377.3 29.5L378.0 28.9L378.8 28.2L379.5 27.6L380.3 27.0L381.1 26.4L382.0 25.9L382.8 25.4L383.7 25.0L384.6 24.6L385.5 24.3L386.5 24.0L387.4 23.8L388.4 23.6L389.4 23.4L390.4 23.3L391.4 23.2L392.5 23.1L393.5 23.0L394.5 22.9L395.5 22.9L396.5 22.8L397.5 22.7L398.5 22.6L399.5 22.5L400.5 22.4L401.5 22.3L402.5 22.2L403.5 22.1L404.5 22.0L405.5 21.9L406.5 21.7L407.5 21.6L408.4 21.5L409.4 21.4L410.4 21.2L411.4 21.1L412.4 21.0L413.4 20.8L414.3 20.7L415.3 20.6L416.3 20.5L417.3 20.3L418.3 20.2L419.3 20.1L420.3 20.0L421.3 19.9L422.3 19.8L423.3 19.7L424.3 19.6L425.3 19.5L426.3 19.5L427.3 19.4L428.3 19.4L429.3 19.4L430.3 19.3L431.3 19.3L432.3 19.4L433.3 19.4L434.3 19.5L435.3 19.5L436.3 19.7L437.3 19.8L438.2 19.9L439.2 20.1L440.2 20.3L441.1 20.6L442.0 20.8L443.0 21.1L443.9 21.4L444.9 21.7L445.8 22.0L446.7 22.3L447.7 22.6L448.6 22.8L449.6 23.1L450.5 23.3L451.5 23.5L452.5 23.7L453.5 23.8L454.5 23.9L455.5 24.0L456.5 24.0L457.6 24.0L458.6 24.0L459.6 23.9L460.7 24.0L461.7 24.1L462.7 24.2L463.6 24.4L464.5 24.7L465.4 25.1L466.2 25.6L467.0 26.1L467.6 26.7L468.3 27.3L468.9 28.0L469.4 28.8L469.9 29.6L470.4 30.5L470.8 31.4L471.2 32.3L471.6 33.3L472.0 34.2L472.4 35.2L472.7 36.2L473.1 37.2L473.5 38.1L473.9 39.1L474.3 40.0L474.8 40.9L475.3 41.8L475.8 42.7L476.3 43.5L476.9 44.3L477.6 45.0L478.2 45.7L478.9 46.4L479.5 47.1L480.2 47.8L480.8 48.6L481.4 49.3L482.0 50.1L482.6 50.9L483.1 51.7L483.6 52.6L484.2 53.4L484.7 54.3L485.1 55.1L485.6 56.0L486.1 56.9L486.6 57.8L487.1 58.7L487.5 59.6L488.0 60.5L488.5 61.4L489.0 62.3L489.5 63.2L490.0 64.1L490.5 64.9L491.0 65.8L491.5 66.6L492.1 67.4L492.6 68.3L493.2 69.1L493.7 69.9L494.3 70.8L494.8 71.6L495.3 72.4L495.8 73.3L496.3 74.2L496.8 75.0L497.2 75.9L497.6 76.8L498.0 77.7L498.4 78.6L498.8 79.5L499.1 80.5L499.5 81.4L499.8 82.4L500.1 83.3L500.4 84.3L500.7 85.3L501.0 86.2L501.2 87.2L501.5 88.2L501.8 89.2L502.1 90.1L502.3 91.1L502.6 92.1L502.9 93.1L503.2 94.1L503.4 95.0L503.7 96.0L504.0 97.0L504.3 97.9L504.7 98.9L505.0 99.8L505.3 100.8L505.7 101.7L506.1 102.6L506.5 103.5L506.9 104.4L507.3 105.3L507.8 106.2L508.3 107.0L508.8 107.9L509.3 108.7L509.9 109.5L510.5 110.3L511.1 111.1L511.7 111.9L512.4 112.6L513.0 113.4L513.7 114.2L514.3 114.9L515.0 115.7L515.7 116.4L516.3 117.2L516.9 118.0L517.5 118.8L518.1 119.6L518.7 120.4L519.2 121.2L519.8 122.1L520.3 122.9L520.9 123.7L521.4 124.6L522.0 125.4L522.5 126.2L523.1 127.1L523.7 127.9L524.2 128.7L524.8 129.5L525.4 130.3L526.1 131.1L526.7 131.9L527.4 132.6L528.1 133.4L528.8 134.1L529.5 134.8L530.3 135.4L531.0 136.1L531.8 136.7L532.6 137.2L533.5 137.8L534.3 138.3L535.2 138.7L536.1 139.1L537.0 139.5L538.0 139.8L539.0 140.1L540.0 140.3L541.0 140.5" stroke="#10e810"/>
<path d="M316.0 200.2L316.1 199.2L316.2 198.2L316.3 197.2L316.4 196.2L316.5 195.2L316.6 194.2L316.8 193.2L317.0 192.2L317.1 191.2L317.3 190.3L317.5 189.3L317.7 188.3L318.0 187.3L318.2 186.4L318.4 185.4L318.7 184.4L318.9 183.5L319.2 182.5L319.5 181.6L319.8 180.6L320.0 179.6L320.3 178.7L320.6 177.7L320.9 176.8L321.2 175.8L321.5 174.9L321.9 174.0L322.2 173.0L322.5 172.1L322.8 171.1L323.2 170.2L323.5 169.2L323.8 168.3L324.1 167.4L324.5 166.4L324.8 165.5L325.2 164.5L325.5 163.6L325.8 162.7L326.2 161.7L326.5 160.8L326.8 159.9L327.2 158.9L327.5 158.0L327.8 157.0L328.2 156.1L328.5 155.2L328.8 154.2L329.2 153.3L329.5 152.3L329.8 151.4L330.2 150.5L330.5 149.5L330.8 148.6L331.2 147.6L331.5 146.7L331.8 145.8L332.1 144.8L332.5 143.9L332.8 142.9L333.1 142.0L333.4 141.0L333.7 140.1L334.1 139.2L334.4 138.2L334.7 137.3L335.0 136.3L335.3 135.4L335.6 134.4L335.9 133.5L336.2 132.5L336.5 131.6L336.8 130.6L337.1 129.7L337.4 128.7L337.6 127.7L337.9 126.8L338.2 125.8L338.5 124.9L338.7 123.9L339.0 123.0L339.3 122.0L339.5 121.0L339.8 120.1L340.0 119.1L340.3 118.1L340.6 117.2L340.8 116.2L341.1 115.2L341.3 114.3L341.6 113.3L341.8 112.3L342.1 111.4L342.3 110.4L342.5 109.4L342.8 108.5L343.0 107.5L343.3 106.5L343.5 105.5L343.7 104.6L344.0 103.6L344.2 102.6L344.5 101.7L344.7 100.7L344.9 99.7L345.2 98.7L345.4 97.8L345.6 96.8L345.9 95.8L346.1 94.9L346.3 93.9L346.6 92.9L346.8 91.9L347.1 91.0L347.3 90.0L347.5 89.0L347.8 88.1L348.0 87.1L348.3 86.1L348.5 85.2L348.7 84.2L349.0 83.2L349.2 82.3L349.5 81.3L349.7 80.3L350.0 79.4L350.2 78.4L350.5 77.4L350.8 76.5L351.0 75.5L351.3 74.5L351.6 73.6L351.8 72.6L352.1 71.7L352.4 70.7L352.6 69.7L352.9 68.8L353.2 67.8L353.5 66.9L353.8 65.9L354.1 65.0L354.3 64.0L354.6 63.1L354.9 62.1L355.2 61.2L355.6 60.2L355.9 59.3L356.2 58.3L356.5 57.4L356.8 56.5L357.1 55.5L357.5 54.6L357.8 53.6L358.2 52.7L358.5 51.8L358.8 50.8L359.2 49.9L359.5 49.0L359.9 48.1L360.3 47.1L360.6 46.2L361.0 45.3L361.4 44.3L361.8 43.4L362.2 42.5L362.6 41.6L363.0 40.7L363.4 39.7L363.8 38.8L364.2 37.9L364.6 37.0L365.0 36.1L365.4 35.1L365.9 34.2L366.4 33.4L366.9 32.5L367.5 31.7L368.1 31.0L368.8 30.3L369.6 29.6L370.4 29.0L371.2 28.5L372.1 28.0L373.0 27.6L373.9 27.1L374.8 26.8L375.8 26.5L376.7 26.2L377.7 25.9L378.6 25.7L379.6 25.6L380.6 25.4L381.6 25.3L382.5 25.2L383.5 25.2L384.5 25.2L385.5 25.2L386.5 25.2L387.5 25.2L388.5 25.3L389.5 25.3L390.5 25.4L391.5 25.5L392.5 25.6L393.5 25.7L394.5 25.9L395.5 26.0L396.5 26.1L397.5 26.2L398.5 26.3L399.6 26.5L400.6 26.6L401.6 26.7L402.6 26.8L403.6 26.9L404.6 26.9L405.6 27.0L406.6 27.0L407.6 27.1L408.6 27.1L409.6 27.1L410.6 27.1L411.6 27.0L412.6 27.0L413.6 26.9L414.6 26.8L415.5 26.7L416.5 26.6L417.5 26.5L418.5 26.3L419.4 26.1L420.4 25.9L421.4 25.6L422.3 25.4L423.3 25.1L424.3 24.8L425.2 24.4L426.2 24.1L427.1 23.7L428.1 23.3L429.0 22.9L429.9 22.5L430.9 22.2L431.8 21.8L432.8 21.5L433.7 21.2L434.6 21.0L435.6 20.8L436.5 20.7L437.5 20.7L438.5 20.7L439.4 20.9L440.4 21.1L441.4 21.3L442.3 21.6L443.3 22.0L444.2 22.3L445.2 22.7L446.1 23.1L447.0 23.5L447.9 23.9L448.8 24.3L449.8 24.5L450.7 24.7L451.7 24.8L452.8 24.8L453.8 24.7L454.9 24.6L456.0 24.4L457.0 24.3L458.1 24.1L459.2 24.0L460.2 24.0L461.2 24.1L462.1 24.2L463.1 24.4L464.0 24.6L464.9 24.9L465.7 25.3L466.6 25.7L467.4 26.2L468.2 26.7L469.0 27.2L469.7 27.8L470.5 28.4L471.2 29.1L471.9 29.8L472.6 30.5L473.2 31.3L473.9 32.0L474.5 32.8L475.2 33.6L475.8 34.4L476.4 35.2L477.0 36.1L477.6 36.9L478.2 37.7L478.8 38.5L479.4 39.3L480.0 40.2L480.5 41.0L481.1 41.8L481.7 42.6L482.2 43.5L482.8 44.3L483.3 45.1L483.9 45.9L484.4 46.7L485.0 47.6L485.5 48.4L486.1 49.2L486.6 50.1L487.2 50.9L487.7 51.7L488.3 52.5L488.8 53.4L489.4 54.2L489.9 55.0L490.5 55.9L491.0 56.7L491.6 57.6L492.1 58.4L492.7 59.2L493.2 60.1L493.8 60.9L494.3 61.8L494.8 62.6L495.3 63.5L495.8 64.3L496.4 65.2L496.9 66.1L497.3 66.9L497.8 67.8L498.3 68.7L498.8 69.5L499.2 70.4L499.6 71.3L500.0 72.2L500.4 73.1L500.8 74.1L501.1 75.0L501.4 75.9L501.8 76.9L502.0 77.8L502.3 78.8L502.6 79.8L502.8 80.8L503.0 81.7L503.2 82.7L503.4 83.7L503.6 84.7L503.8 85.7L504.0 86.7L504.2 87.7L504.4 88.7L504.6 89.7L504.7 90.7L504.9 91.7L505.1 92.7L505.3 93.7L505.5 94.7L505.8 95.7L506.0 96.6L506.3 97.6L506.5 98.6L506.8 99.5L507.1 100.5L507.4 101.4L507.8 102.3L508.2 103.2L508.6 104.1L509.0 105.0L509.4 105.9L509.9 106.7L510.4 107.6L511.0 108.4L511.6 109.2L512.2 110.0L512.8 110.8L513.4 111.6L514.0 112.4L514.6 113.2L515.3 114.0L515.9 114.8L516.5 115.6L517.1 116.4L517.6 117.2L518.2 118.1L518.7 118.9L519.2 119.8L519.7 120.6L520.2 121.5L520.8 122.3L521.3 123.2L521.8 124.0L522.3 124.9L522.8 125.7L523.3 126.5L523.9 127.4L524.4 128.2L525.0 129.0L525.6 129.8L526.3 130.6L526.9 131.4L527.6 132.1L528.3 132.8L529.0 133.6L529.7 134.3L530.5 134.9L531.2 135.6L532.0 136.2L532.8 136.8L533.7 137.3L534.5 137.8L535.4 138.3L536.3 138.8L537.2 139.2L538.1 139.6L539.0 139.9L540.0 140.2L541.0 140.5" stroke="#0a0ad8"/>
<path d="M316.0 200.2L316.1 199.2L316.3 198.2L316.4 197.2L316.6 196.2L316.7 195.3L316.9 194.3L317.1 193.3L317.2 192.3L317.4 191.3L317.6 190.3L317.8 189.4L318.0 188.4L318.2 187.4L318.4 186.4L318.6 185.4L318.8 184.5L319.0 183.5L319.3 182.5L319.5 181.5L319.7 180.6L320.0 179.6L320.2 178.6L320.5 177.7L320.8 176.7L321.0 175.7L321.3 174.8L321.6 173.8L321.9 172.9L322.2 171.9L322.5 171.0L322.9 170.0L323.2 169.1L323.5 168.2L323.9 167.2L324.2 166.3L324.6 165.3L325.0 164.4L325.3 163.5L325.7 162.6L326.1 161.6L326.5 160.7L326.8 159.8L327.2 158.9L327.6 158.0L328.0 157.0L328.4 156.1L328.8 155.2L329.1 154.3L329.5 153.3L329.9 152.4L330.2 151.5L330.6 150.5L330.9 149.6L331.2 148.7L331.6 147.7L331.9 146.8L332.2 145.8L332.5 144.9L332.8 143.9L333.1 143.0L333.3 142.0L333.6 141.0L333.9 140.1L334.1 139.1L334.4 138.2L334.7 137.2L334.9 136.2L335.2 135.3L335.4 134.3L335.7 133.3L335.9 132.4L336.1 131.4L336.4 130.4L336.6 129.4L336.9 128.5L337.1 127.5L337.4 126.5L337.6 125.6L337.8 124.6L338.1 123.6L338.3 122.7L338.6 121.7L338.8 120.7L339.0 119.7L339.3 118.8L339.5 117.8L339.8 116.8L340.0 115.9L340.2 114.9L340.5 113.9L340.7 112.9L341.0 112.0L341.2 111.0L341.4 110.0L341.7 109.1L341.9 108.1L342.2 107.1L342.4 106.1L342.6 105.2L342.9 104.2L343.1 103.2L343.3 102.2L343.6 101.3L343.8 100.3L344.0 99.3L344.3 98.4L344.5 97.4L344.8 96.4L345.0 95.4L345.2 94.5L345.5 93.5L345.7 92.5L345.9 91.6L346.2 90.6L346.4 89.6L346.6 88.6L346.9 87.7L347.1 86.7L347.3 85.7L347.6 84.8L347.8 83.8L348.0 82.8L348.3 81.8L348.5 80.9L348.7 79.9L349.0 78.9L349.2 78.0L349.4 77.0L349.6 76.0L349.9 75.0L350.1 74.1L350.3 73.1L350.6 72.1L350.8 71.2L351.0 70.2L351.3 69.2L351.5 68.2L351.7 67.3L351.9 66.3L352.2 65.3L352.4 64.4L352.6 63.4L352.9 62.4L353.1 61.4L353.3 60.5L353.5 59.5L353.8 58.5L354.0 57.6L354.2 56.6L354.4 55.6L354.7 54.7L354.9 53.7L355.1 52.7L355.3 51.8L355.6 50.8L355.8 49.8L356.0 48.9L356.3 47.9L356.5 46.9L356.8 45.9L357.0 45.0L357.3 44.0L357.5 43.0L357.8 42.1L358.1 41.1L358.4 40.1L358.7 39.1L359.0 38.1L359.3 37.2L359.6 36.2L360.0 35.2L360.3 34.2L360.7 33.3L361.1 32.3L361.6 31.5L362.1 30.6L362.7 29.8L363.3 29.1L364.0 28.5L364.7 27.9L365.5 27.4L366.4 27.0L367.3 26.7L368.3 26.5L369.3 26.4L370.3 26.3L371.3 26.3L372.4 26.3L373.4 26.4L374.5 26.5L375.5 26.6L376.5 26.8L377.5 27.0L378.5 27.2L379.4 27.4L380.4 27.7L381.4 27.9L382.3 28.2L383.2 28.5L384.2 28.8L385.1 29.1L386.0 29.4L386.9 29.8L387.9 30.1L388.8 30.4L389.7 30.8L390.6 31.1L391.5 31.5L392.5 31.8L393.4 32.1L394.4 32.4L395.3 32.6L396.3 32.9L397.3 33.0L398.2 33.2L399.2 33.3L400.2 33.4L401.2 33.4L402.2 33.5L403.2 33.5L404.2 33.4L405.2 33.4L406.2 33.3L407.3 33.2L408.3 33.0L409.3 32.9L410.3 32.7L411.3 32.5L412.3 32.3L413.3 32.1L414.3 31.8L415.2 31.6L416.2 31.3L417.2 31.0L418.1 30.7L419.1 30.4L420.0 30.1L420.9 29.7L421.9 29.4L422.8 29.0L423.7 28.7L424.6 28.3L425.5 27.9L426.4 27.5L427.3 27.1L428.2 26.6L429.1 26.2L430.0 25.7L430.9 25.3L431.8 24.8L432.7 24.3L433.6 23.8L434.5 23.3L435.4 22.9L436.3 22.6L437.2 22.4L438.1 22.3L439.0 22.5L439.8 22.8L440.7 23.2L441.6 23.8L442.4 24.4L443.2 25.1L444.1 25.8L444.9 26.6L445.7 27.2L446.5 27.9L447.3 28.4L448.2 28.8L449.0 29.0L449.9 29.1L450.8 29.0L451.8 28.8L452.7 28.5L453.7 28.1L454.6 27.7L455.6 27.3L456.6 27.0L457.6 26.7L458.6 26.5L459.6 26.3L460.6 26.1L461.6 26.1L462.6 26.0L463.6 26.0L464.6 26.1L465.6 26.2L466.6 26.3L467.5 26.5L468.5 26.8L469.4 27.0L470.3 27.3L471.2 27.7L472.1 28.1L473.0 28.5L473.9 29.0L474.7 29.5L475.5 30.0L476.3 30.6L477.0 31.2L477.8 31.8L478.5 32.4L479.2 33.1L479.9 33.8L480.6 34.5L481.3 35.3L481.9 36.0L482.5 36.8L483.2 37.6L483.8 38.4L484.4 39.3L484.9 40.1L485.5 41.0L486.1 41.8L486.6 42.7L487.2 43.6L487.7 44.5L488.2 45.4L488.7 46.3L489.3 47.2L489.8 48.1L490.3 49.0L490.7 49.9L491.2 50.8L491.7 51.7L492.2 52.6L492.7 53.5L493.1 54.4L493.6 55.3L494.1 56.2L494.5 57.1L495.0 58.0L495.4 58.9L495.8 59.8L496.3 60.6L496.7 61.5L497.1 62.4L497.5 63.3L497.9 64.2L498.3 65.1L498.7 66.0L499.1 66.9L499.5 67.8L499.9 68.7L500.3 69.7L500.6 70.6L501.0 71.5L501.3 72.4L501.7 73.3L502.0 74.2L502.4 75.2L502.7 76.1L503.0 77.0L503.3 78.0L503.6 78.9L503.9 79.8L504.2 80.8L504.5 81.7L504.8 82.7L505.0 83.7L505.3 84.6L505.6 85.6L505.8 86.6L506.1 87.6L506.3 88.5L506.5 89.5L506.7 90.5L507.0 91.5L507.2 92.5L507.4 93.5L507.7 94.5L507.9 95.5L508.1 96.5L508.4 97.5L508.7 98.5L509.0 99.4L509.3 100.4L509.6 101.3L509.9 102.3L510.3 103.2L510.7 104.1L511.1 105.0L511.6 105.9L512.0 106.7L512.6 107.6L513.1 108.4L513.6 109.2L514.2 110.1L514.8 110.9L515.4 111.7L515.9 112.5L516.5 113.3L517.0 114.2L517.6 115.0L518.1 115.8L518.6 116.7L519.1 117.6L519.6 118.4L520.1 119.3L520.6 120.2L521.1 121.0L521.6 121.9L522.1 122.8L522.6 123.6L523.1 124.5L523.7 125.3L524.2 126.2L524.8 127.0L525.4 127.9L525.9 128.7L526.6 129.5L527.2 130.3L527.8 131.0L528.5 131.8L529.2 132.5L529.9 133.2L530.6 133.9L531.4 134.6L532.2 135.2L532.9 135.8L533.7 136.4L534.6 136.9L535.4 137.5L536.3 137.9L537.2 138.4L538.1 138.8L539.1 139.2L540.0 139.5L541.0 139.8" stroke="#10e8ee"/>
<path d="M316.0 200.2L316.1 199.2L316.3 198.2L316.4 197.2L316.6 196.3L316.8 195.3L316.9 194.3L317.1 193.3L317.3 192.3L317.4 191.3L317.6 190.3L317.8 189.4L318.0 188.4L318.2 187.4L318.4 186.4L318.6 185.4L318.8 184.5L319.0 183.5L319.2 182.5L319.5 181.5L319.7 180.6L320.0 179.6L320.2 178.6L320.5 177.7L320.7 176.7L321.0 175.7L321.3 174.8L321.6 173.8L321.9 172.9L322.2 171.9L322.5 171.0L322.8 170.0L323.2 169.1L323.5 168.1L323.9 167.2L324.2 166.3L324.6 165.3L325.0 164.4L325.3 163.5L325.7 162.6L326.1 161.6L326.5 160.7L326.9 159.8L327.3 158.9L327.7 158.0L328.0 157.0L328.4 156.1L328.8 155.2L329.2 154.3L329.6 153.4L329.9 152.4L330.3 151.5L330.6 150.6L331.0 149.6L331.3 148.7L331.6 147.7L331.9 146.8L332.2 145.8L332.5 144.9L332.8 143.9L333.1 143.0L333.3 142.0L333.6 141.0L333.9 140.1L334.1 139.1L334.4 138.1L334.6 137.2L334.8 136.2L335.1 135.2L335.3 134.2L335.6 133.3L335.8 132.3L336.0 131.3L336.2 130.3L336.5 129.4L336.7 128.4L336.9 127.4L337.2 126.4L337.4 125.5L337.6 124.5L337.8 123.5L338.1 122.5L338.3 121.6L338.5 120.6L338.8 119.6L339.0 118.6L339.2 117.7L339.4 116.7L339.7 115.7L339.9 114.7L340.1 113.8L340.4 112.8L340.6 111.8L340.8 110.9L341.0 109.9L341.3 108.9L341.5 107.9L341.7 107.0L341.9 106.0L342.2 105.0L342.4 104.0L342.6 103.1L342.8 102.1L343.1 101.1L343.3 100.2L343.5 99.2L343.7 98.2L344.0 97.2L344.2 96.3L344.4 95.3L344.6 94.3L344.8 93.3L345.0 92.4L345.3 91.4L345.5 90.4L345.7 89.4L345.9 88.5L346.1 87.5L346.3 86.5L346.6 85.5L346.8 84.6L347.0 83.6L347.2 82.6L347.4 81.6L347.6 80.7L347.8 79.7L348.0 78.7L348.2 77.7L348.4 76.8L348.6 75.8L348.8 74.8L349.0 73.8L349.2 72.8L349.4 71.9L349.6 70.9L349.8 69.9L350.0 68.9L350.2 67.9L350.4 67.0L350.6 66.0L350.8 65.0L351.0 64.0L351.2 63.0L351.4 62.0L351.6 61.1L351.7 60.1L351.9 59.1L352.1 58.1L352.3 57.1L352.5 56.1L352.7 55.1L352.8 54.2L353.0 53.2L353.2 52.2L353.4 51.2L353.6 50.2L353.7 49.2L353.9 48.2L354.1 47.2L354.3 46.3L354.5 45.3L354.8 44.3L355.0 43.3L355.2 42.4L355.5 41.4L355.8 40.5L356.0 39.5L356.3 38.5L356.7 37.6L357.0 36.7L357.3 35.7L357.7 34.8L358.1 33.9L358.5 33.0L359.0 32.1L359.4 31.2L359.9 30.3L360.4 29.4L361.0 28.5L361.5 27.7L362.2 26.9L362.9 26.3L363.6 25.7L364.5 25.3L365.4 25.1L366.4 25.1L367.4 25.2L368.4 25.5L369.4 25.9L370.3 26.3L371.2 26.8L372.1 27.4L373.0 27.9L373.9 28.4L374.8 28.9L375.8 29.3L376.7 29.7L377.5 30.1L378.4 30.5L379.3 30.9L380.2 31.3L381.1 31.7L382.0 32.1L382.9 32.5L383.8 32.9L384.7 33.3L385.6 33.7L386.5 34.2L387.4 34.7L388.3 35.2L389.2 35.7L390.1 36.2L391.0 36.6L392.0 37.1L392.9 37.5L393.8 37.9L394.8 38.2L395.7 38.5L396.7 38.7L397.7 38.9L398.6 39.0L399.6 39.1L400.6 39.1L401.6 39.1L402.6 39.1L403.6 39.0L404.6 38.9L405.6 38.8L406.6 38.6L407.6 38.4L408.6 38.2L409.6 38.0L410.5 37.7L411.5 37.4L412.5 37.2L413.5 36.9L414.4 36.6L415.4 36.2L416.3 35.9L417.3 35.6L418.2 35.3L419.1 35.0L420.0 34.6L420.9 34.3L421.8 34.0L422.7 33.6L423.5 33.2L424.4 32.8L425.2 32.4L426.1 31.9L426.9 31.4L427.7 30.9L428.6 30.3L429.4 29.7L430.2 29.0L431.0 28.2L431.8 27.4L432.7 26.6L433.5 25.8L434.3 25.0L435.1 24.4L435.9 23.9L436.6 23.6L437.4 23.5L438.2 23.7L439.0 24.1L439.7 24.7L440.5 25.4L441.3 26.2L442.0 27.0L442.8 28.0L443.6 28.9L444.3 29.8L445.1 30.7L445.9 31.4L446.7 32.1L447.5 32.6L448.3 32.9L449.1 33.0L449.9 32.8L450.7 32.5L451.6 32.1L452.4 31.6L453.3 31.0L454.1 30.4L455.0 29.9L455.9 29.4L456.8 29.0L457.7 28.6L458.6 28.2L459.6 27.9L460.5 27.6L461.5 27.4L462.5 27.1L463.6 26.9L464.7 26.8L465.7 26.7L466.8 26.6L467.8 26.6L468.8 26.6L469.8 26.8L470.8 26.9L471.8 27.2L472.7 27.5L473.6 27.9L474.4 28.3L475.3 28.7L476.1 29.2L476.9 29.8L477.7 30.3L478.5 30.9L479.3 31.6L480.0 32.3L480.7 33.0L481.4 33.7L482.1 34.4L482.8 35.1L483.4 35.9L484.1 36.7L484.7 37.4L485.4 38.2L486.0 39.0L486.6 39.8L487.2 40.6L487.7 41.4L488.3 42.3L488.9 43.1L489.4 43.9L489.9 44.8L490.5 45.6L491.0 46.5L491.5 47.3L492.0 48.2L492.4 49.1L492.9 50.0L493.4 50.9L493.8 51.8L494.3 52.7L494.7 53.6L495.1 54.5L495.5 55.4L495.9 56.3L496.3 57.3L496.7 58.2L497.1 59.1L497.4 60.1L497.8 61.0L498.1 61.9L498.5 62.9L498.8 63.8L499.1 64.8L499.5 65.8L499.8 66.7L500.1 67.7L500.4 68.6L500.7 69.6L500.9 70.6L501.2 71.5L501.5 72.5L501.7 73.5L502.0 74.5L502.3 75.4L502.5 76.4L502.8 77.4L503.0 78.4L503.2 79.3L503.5 80.3L503.7 81.3L504.0 82.2L504.2 83.2L504.4 84.2L504.7 85.1L504.9 86.1L505.2 87.1L505.4 88.0L505.7 89.0L506.0 90.0L506.2 90.9L506.5 91.9L506.8 92.8L507.1 93.8L507.4 94.7L507.7 95.7L508.0 96.6L508.3 97.5L508.6 98.5L509.0 99.4L509.3 100.3L509.7 101.2L510.1 102.1L510.4 103.1L510.8 104.0L511.3 104.9L511.7 105.8L512.1 106.6L512.6 107.5L513.1 108.4L513.6 109.3L514.1 110.1L514.6 111.0L515.1 111.9L515.6 112.7L516.1 113.6L516.6 114.5L517.1 115.3L517.6 116.2L518.1 117.0L518.6 117.9L519.2 118.7L519.7 119.6L520.2 120.4L520.7 121.3L521.2 122.1L521.8 123.0L522.3 123.8L522.9 124.7L523.4 125.5L524.0 126.3L524.6 127.1L525.2 128.0L525.8 128.8L526.4 129.6L527.0 130.4L527.7 131.1L528.3 131.9L529.0 132.6L529.7 133.3L530.5 134.0L531.2 134.7L532.0 135.3L532.8 135.9L533.6 136.5L534.4 137.0L535.3 137.5L536.2 137.9L537.1 138.4L538.0 138.7L539.0 139.0L540.0 139.3L541.0 139.5" stroke="#f010f0"/>
<path d="M316.0 200.2L316.1 199.2L316.3 198.2L316.4 197.2L316.6 196.3L316.8 195.3L316.9 194.3L317.1 193.3L317.3 192.3L317.4 191.3L317.6 190.4L317.8 189.4L318.0 188.4L318.2 187.4L318.4 186.4L318.6 185.5L318.8 184.5L319.0 183.5L319.2 182.5L319.5 181.6L319.7 180.6L320.0 179.6L320.2 178.7L320.5 177.7L320.7 176.7L321.0 175.8L321.3 174.8L321.6 173.9L321.9 172.9L322.2 172.0L322.5 171.0L322.8 170.1L323.1 169.1L323.5 168.2L323.8 167.2L324.2 166.3L324.6 165.4L324.9 164.5L325.3 163.5L325.7 162.6L326.1 161.7L326.5 160.8L326.9 159.8L327.3 158.9L327.6 158.0L328.0 157.1L328.4 156.2L328.8 155.2L329.2 154.3L329.6 153.4L329.9 152.5L330.3 151.5L330.6 150.6L331.0 149.7L331.3 148.7L331.6 147.8L331.9 146.8L332.2 145.9L332.5 144.9L332.8 144.0L333.1 143.0L333.3 142.1L333.6 141.1L333.9 140.2L334.1 139.2L334.3 138.2L334.6 137.3L334.8 136.3L335.1 135.3L335.3 134.4L335.5 133.4L335.7 132.4L336.0 131.4L336.2 130.5L336.4 129.5L336.6 128.5L336.8 127.5L337.1 126.6L337.3 125.6L337.5 124.6L337.7 123.6L337.9 122.7L338.2 121.7L338.4 120.7L338.6 119.7L338.8 118.8L339.0 117.8L339.2 116.8L339.5 115.8L339.7 114.9L339.9 113.9L340.1 112.9L340.3 111.9L340.5 110.9L340.7 110.0L340.9 109.0L341.2 108.0L341.4 107.0L341.6 106.1L341.8 105.1L342.0 104.1L342.2 103.1L342.4 102.1L342.6 101.2L342.8 100.2L343.0 99.2L343.2 98.2L343.4 97.2L343.6 96.3L343.8 95.3L344.0 94.3L344.2 93.3L344.4 92.3L344.6 91.4L344.8 90.4L345.0 89.4L345.2 88.4L345.4 87.4L345.6 86.5L345.8 85.5L346.0 84.5L346.2 83.5L346.4 82.6L346.6 81.6L346.8 80.6L347.0 79.6L347.2 78.6L347.4 77.7L347.6 76.7L347.8 75.7L347.9 74.7L348.1 73.7L348.3 72.8L348.5 71.8L348.7 70.8L348.9 69.8L349.1 68.9L349.2 67.9L349.4 66.9L349.6 65.9L349.8 64.9L350.0 64.0L350.1 63.0L350.3 62.0L350.5 61.0L350.7 60.1L350.8 59.1L351.0 58.1L351.2 57.1L351.4 56.2L351.5 55.2L351.7 54.2L351.9 53.2L352.0 52.3L352.2 51.3L352.4 50.3L352.5 49.3L352.7 48.4L352.9 47.4L353.0 46.4L353.2 45.4L353.4 44.4L353.6 43.4L353.8 42.4L354.0 41.4L354.1 40.4L354.3 39.4L354.5 38.4L354.8 37.4L355.0 36.3L355.2 35.3L355.4 34.3L355.7 33.3L355.9 32.3L356.3 31.3L356.6 30.3L357.0 29.4L357.5 28.6L358.1 27.8L358.7 27.1L359.4 26.5L360.2 25.9L361.0 25.4L361.9 25.1L362.7 24.8L363.7 24.6L364.6 24.5L365.6 24.6L366.5 24.8L367.5 25.0L368.4 25.4L369.3 25.8L370.3 26.3L371.2 26.8L372.1 27.4L373.0 27.9L373.9 28.4L374.8 28.9L375.7 29.4L376.5 29.9L377.4 30.5L378.2 31.0L379.1 31.5L379.9 32.0L380.7 32.6L381.5 33.1L382.3 33.7L383.1 34.3L383.9 34.9L384.6 35.6L385.4 36.3L386.1 37.0L386.9 37.7L387.6 38.4L388.3 39.1L389.1 39.8L389.8 40.5L390.6 41.2L391.3 41.9L392.1 42.6L392.9 43.2L393.7 43.7L394.5 44.3L395.4 44.7L396.3 45.1L397.2 45.5L398.1 45.8L399.0 46.0L400.0 46.2L401.0 46.4L402.0 46.5L403.0 46.5L404.0 46.5L405.0 46.5L406.0 46.4L407.0 46.3L408.0 46.1L409.0 45.9L410.0 45.7L411.0 45.4L412.0 45.1L413.0 44.8L414.0 44.4L414.9 44.0L415.9 43.6L416.8 43.2L417.7 42.7L418.5 42.2L419.4 41.7L420.2 41.2L421.0 40.7L421.7 40.1L422.5 39.5L423.2 38.9L423.9 38.2L424.6 37.5L425.3 36.8L426.0 36.1L426.7 35.3L427.3 34.5L428.0 33.7L428.6 32.8L429.2 31.9L429.9 30.9L430.5 30.0L431.1 29.0L431.8 28.1L432.4 27.2L433.1 26.4L433.7 25.7L434.4 25.1L435.1 24.7L435.8 24.5L436.5 24.5L437.2 24.7L437.9 25.1L438.7 25.6L439.4 26.3L440.2 27.1L440.9 28.0L441.7 29.0L442.4 30.0L443.1 31.1L443.7 32.1L444.4 33.1L445.1 34.1L445.7 35.0L446.3 35.7L447.0 36.4L447.6 36.9L448.3 37.2L448.9 37.2L449.6 37.1L450.2 36.8L450.9 36.3L451.6 35.7L452.4 35.0L453.1 34.3L453.9 33.5L454.7 32.7L455.5 31.9L456.4 31.2L457.3 30.6L458.2 30.0L459.1 29.4L460.1 29.0L461.0 28.6L462.0 28.2L463.0 27.9L464.0 27.7L465.1 27.5L466.1 27.3L467.1 27.3L468.1 27.2L469.1 27.3L470.1 27.3L471.1 27.5L472.0 27.7L473.0 27.9L473.9 28.2L474.8 28.5L475.7 28.9L476.5 29.3L477.4 29.7L478.2 30.2L478.9 30.8L479.7 31.4L480.4 32.0L481.1 32.6L481.8 33.3L482.5 34.0L483.1 34.8L483.7 35.5L484.3 36.3L484.9 37.1L485.5 37.9L486.1 38.8L486.7 39.7L487.2 40.5L487.7 41.4L488.3 42.3L488.8 43.2L489.3 44.1L489.8 45.0L490.3 46.0L490.8 46.9L491.3 47.8L491.8 48.7L492.3 49.6L492.8 50.5L493.3 51.4L493.8 52.3L494.3 53.1L494.7 54.0L495.2 54.9L495.7 55.8L496.2 56.6L496.6 57.5L497.1 58.4L497.6 59.2L498.0 60.1L498.5 61.0L498.9 61.9L499.3 62.7L499.8 63.6L500.2 64.5L500.6 65.4L501.0 66.3L501.4 67.2L501.8 68.1L502.1 69.0L502.5 69.9L502.8 70.8L503.2 71.8L503.5 72.7L503.8 73.6L504.2 74.6L504.5 75.6L504.8 76.5L505.1 77.5L505.3 78.5L505.6 79.4L505.9 80.4L506.2 81.4L506.4 82.4L506.7 83.3L507.0 84.3L507.2 85.3L507.5 86.3L507.7 87.3L508.0 88.3L508.2 89.2L508.5 90.2L508.7 91.2L509.0 92.1L509.2 93.1L509.5 94.1L509.7 95.0L510.0 96.0L510.2 97.0L510.5 97.9L510.7 98.9L511.0 99.8L511.2 100.8L511.5 101.7L511.7 102.7L512.0 103.6L512.3 104.6L512.5 105.5L512.8 106.5L513.0 107.4L513.3 108.4L513.5 109.3L513.8 110.3L514.0 111.2L514.3 112.2L514.5 113.2L514.8 114.1L515.0 115.1L515.3 116.0L515.5 117.0L515.8 118.0L516.0 118.9L516.3 119.9L516.5 120.9L516.7 121.8L517.0 122.8L517.2 123.8L517.5 124.8L517.7 125.8L518.0 126.8L518.2 127.7L518.5 128.7L518.7 129.7L519.0 130.7L519.2 131.7L519.5 132.7L519.8 133.7L520.1 134.7L520.4 135.6L520.6 136.6L521.0 137.6L521.3 138.6L521.6 139.5L521.9 140.5L522.3 141.4L522.6 142.4L523.0 143.3L523.4 144.2L523.8 145.2L524.2 146.1L524.6 147.0L525.1 147.8L525.5 148.7L526.0 149.6L526.5 150.4L527.0 151.3L527.6 152.1L528.1 152.9L528.7 153.6L529.3 154.2L530.0 154.7L530.7 155.0L531.4 155.0L532.2 154.8L533.0 154.4L533.8 153.8L534.6 153.1L535.4 152.3L536.2 151.4L537.0 150.3L537.7 149.3L538.4 148.2L539.1 147.1L539.6 146.0L540.1 144.9L540.5 143.9L540.9 143.0L541.1 142.2L541.1 141.5L541.1 141.0" stroke="#f78f1c"/>
<path d="M316.0 200.2L316.2 199.2L316.3 198.2L316.5 197.3L316.6 196.3L316.8 195.3L317.0 194.3L317.1 193.3L317.3 192.3L317.5 191.3L317.6 190.4L317.8 189.4L318.0 188.4L318.2 187.4L318.4 186.4L318.6 185.5L318.8 184.5L319.0 183.5L319.2 182.5L319.5 181.5L319.7 180.6L319.9 179.6L320.2 178.6L320.4 177.7L320.7 176.7L321.0 175.7L321.2 174.8L321.5 173.8L321.8 172.9L322.1 171.9L322.4 171.0L322.8 170.0L323.1 169.1L323.5 168.1L323.8 167.2L324.2 166.3L324.5 165.4L324.9 164.4L325.3 163.5L325.7 162.6L326.1 161.7L326.5 160.8L326.9 159.8L327.3 158.9L327.7 158.0L328.1 157.1L328.5 156.2L328.9 155.3L329.3 154.3L329.6 153.4L330.0 152.5L330.3 151.6L330.7 150.6L331.0 149.7L331.3 148.7L331.6 147.8L331.9 146.8L332.2 145.9L332.4 144.9L332.7 143.9L332.9 143.0L333.1 142.0L333.4 141.0L333.6 140.1L333.8 139.1L334.0 138.1L334.2 137.1L334.4 136.1L334.6 135.2L334.8 134.2L335.0 133.2L335.2 132.2L335.4 131.2L335.6 130.3L335.8 129.3L336.1 128.3L336.3 127.3L336.5 126.3L336.7 125.4L337.0 124.4L337.2 123.4L337.4 122.5L337.7 121.5L337.9 120.5L338.1 119.5L338.4 118.6L338.6 117.6L338.8 116.6L339.1 115.7L339.3 114.7L339.5 113.7L339.8 112.8L340.0 111.8L340.2 110.8L340.5 109.8L340.7 108.9L340.9 107.9L341.1 106.9L341.3 105.9L341.5 105.0L341.7 104.0L341.9 103.0L342.1 102.0L342.3 101.1L342.5 100.1L342.7 99.1L342.8 98.1L343.0 97.1L343.1 96.1L343.3 95.2L343.4 94.2L343.6 93.2L343.7 92.2L343.9 91.2L344.0 90.2L344.2 89.2L344.3 88.2L344.5 87.2L344.6 86.3L344.8 85.3L345.0 84.3L345.1 83.3L345.3 82.3L345.5 81.3L345.7 80.3L345.9 79.4L346.0 78.4L346.2 77.4L346.4 76.4L346.6 75.4L346.8 74.5L347.0 73.5L347.2 72.5L347.5 71.5L347.7 70.5L347.9 69.6L348.1 68.6L348.3 67.6L348.5 66.6L348.7 65.6L348.9 64.7L349.1 63.7L349.2 62.7L349.4 61.7L349.6 60.7L349.8 59.8L350.0 58.8L350.1 57.8L350.3 56.8L350.5 55.8L350.6 54.9L350.8 53.9L350.9 52.9L351.1 51.9L351.2 50.9L351.3 49.9L351.5 48.9L351.6 48.0L351.7 47.0L351.9 46.0L352.0 45.0L352.2 44.0L352.3 43.0L352.5 42.0L352.7 41.1L352.8 40.1L353.0 39.1L353.3 38.1L353.5 37.1L353.7 36.1L354.0 35.2L354.2 34.2L354.5 33.2L354.8 32.2L355.2 31.3L355.5 30.3L355.9 29.3L356.3 28.4L356.7 27.4L357.2 26.5L357.7 25.6L358.3 24.8L358.9 24.1L359.6 23.6L360.4 23.2L361.2 22.9L362.1 22.9L363.1 22.9L364.0 23.1L364.9 23.5L365.9 23.9L366.7 24.4L367.6 24.9L368.4 25.5L369.2 26.1L369.9 26.8L370.7 27.5L371.4 28.3L372.1 29.0L372.8 29.8L373.4 30.6L374.1 31.4L374.8 32.2L375.4 33.0L376.1 33.7L376.8 34.5L377.4 35.2L378.1 36.0L378.8 36.7L379.5 37.4L380.2 38.0L380.9 38.7L381.6 39.4L382.4 40.0L383.1 40.7L383.9 41.3L384.6 42.0L385.4 42.6L386.2 43.2L387.0 43.9L387.8 44.5L388.6 45.1L389.4 45.7L390.2 46.3L391.1 46.9L391.9 47.4L392.8 48.0L393.7 48.5L394.5 48.9L395.4 49.4L396.3 49.8L397.2 50.2L398.1 50.5L399.1 50.8L400.0 51.1L400.9 51.3L401.9 51.5L402.8 51.6L403.8 51.7L404.8 51.7L405.7 51.7L406.7 51.6L407.7 51.5L408.7 51.3L409.7 51.0L410.7 50.8L411.6 50.4L412.6 50.1L413.6 49.7L414.5 49.2L415.5 48.8L416.4 48.3L417.3 47.7L418.2 47.2L419.1 46.6L419.9 46.0L420.8 45.3L421.6 44.7L422.3 44.0L423.1 43.3L423.8 42.7L424.4 42.0L425.1 41.2L425.7 40.5L426.3 39.8L426.8 39.1L427.3 38.3L427.9 37.5L428.4 36.6L428.9 35.7L429.4 34.7L430.0 33.7L430.5 32.7L431.1 31.6L431.7 30.5L432.3 29.5L432.9 28.5L433.5 27.6L434.1 26.8L434.7 26.1L435.4 25.6L436.0 25.2L436.7 25.0L437.3 25.1L438.0 25.4L438.6 25.8L439.3 26.4L439.9 27.2L440.5 28.1L441.2 29.0L441.8 30.1L442.4 31.2L442.9 32.4L443.5 33.6L444.0 34.7L444.6 35.9L445.1 37.0L445.6 38.0L446.2 38.9L446.7 39.7L447.3 40.3L447.9 40.7L448.5 40.9L449.1 40.9L449.8 40.6L450.5 40.2L451.3 39.6L452.0 38.9L452.7 38.1L453.5 37.3L454.2 36.4L454.9 35.6L455.6 34.7L456.2 33.9L456.9 33.1L457.6 32.4L458.3 31.7L459.1 31.0L459.8 30.4L460.6 29.8L461.5 29.3L462.4 28.8L463.4 28.4L464.4 28.1L465.5 27.8L466.5 27.7L467.6 27.6L468.6 27.5L469.6 27.5L470.6 27.7L471.6 27.8L472.5 28.1L473.4 28.4L474.3 28.7L475.2 29.1L476.0 29.6L476.9 30.1L477.7 30.6L478.5 31.2L479.2 31.8L480.0 32.4L480.7 33.1L481.5 33.8L482.2 34.5L482.8 35.2L483.5 36.0L484.2 36.7L484.8 37.5L485.5 38.2L486.1 39.0L486.7 39.8L487.3 40.6L487.8 41.4L488.4 42.2L489.0 43.1L489.5 43.9L490.0 44.8L490.6 45.6L491.1 46.5L491.5 47.3L492.0 48.2L492.5 49.1L493.0 50.0L493.4 50.9L493.9 51.8L494.3 52.7L494.7 53.6L495.1 54.5L495.5 55.5L495.9 56.4L496.3 57.3L496.7 58.2L497.0 59.2L497.4 60.1L497.8 61.1L498.1 62.0L498.4 63.0L498.8 63.9L499.1 64.9L499.4 65.9L499.7 66.8L500.0 67.8L500.3 68.7L500.6 69.7L500.9 70.7L501.2 71.6L501.5 72.6L501.8 73.6L502.0 74.5L502.3 75.5L502.6 76.5L502.8 77.4L503.1 78.4L503.4 79.3L503.6 80.3L503.9 81.3L504.1 82.2L504.4 83.2L504.7 84.2L504.9 85.1L505.2 86.1L505.5 87.0L505.7 88.0L506.0 88.9L506.3 89.9L506.5 90.8L506.8 91.8L507.1 92.7L507.4 93.7L507.7 94.6L508.0 95.6L508.3 96.5L508.6 97.4L508.9 98.4L509.3 99.3L509.6 100.2L509.9 101.2L510.3 102.1L510.7 103.0L511.0 103.9L511.4 104.8L511.8 105.7L512.2 106.6L512.6 107.5L513.1 108.4L513.6 109.3L514.1 110.1L514.7 110.9L515.3 111.7L515.9 112.5L516.5 113.3L517.0 114.1L517.6 114.9L518.2 115.7L518.8 116.5L519.4 117.3L519.9 118.2L520.5 119.0L521.0 119.8L521.5 120.7L522.0 121.5L522.5 122.4L523.1 123.3L523.6 124.1L524.2 125.0L524.7 125.8L525.3 126.6L525.9 127.4L526.6 128.2L527.2 129.0L527.9 129.8L528.6 130.5L529.3 131.2L530.1 131.9L530.8 132.5L531.6 133.1L532.4 133.6L533.3 134.2L534.2 134.6L535.1 135.0L536.0 135.4L536.9 135.7L537.9 135.9L538.9 136.1L539.9 136.2L541.0 136.3" stroke="#85922a"/>
</g>
<line x1="377.0" y1="68.7" x2="400.6" y2="68.7" stroke="#e62828" stroke-width="1.7"/>
<text x="405.0" y="72.1" class="lg2">t<tspan class="sb" dy="2.8" dx="0.3">3</tspan><tspan dy="-2.8">=0.1um</tspan></text>
<line x1="377.0" y1="84.0" x2="400.6" y2="84.0" stroke="#10e810" stroke-width="1.7"/>
<text x="405.0" y="87.4" class="lg2">t<tspan class="sb" dy="2.8" dx="0.3">3</tspan><tspan dy="-2.8">=0.15um</tspan></text>
<line x1="377.0" y1="99.4" x2="400.6" y2="99.4" stroke="#0a0ad8" stroke-width="1.7"/>
<text x="405.0" y="102.8" class="lg2">t<tspan class="sb" dy="2.8" dx="0.3">3</tspan><tspan dy="-2.8">=0.2um</tspan></text>
<line x1="377.0" y1="114.7" x2="400.6" y2="114.7" stroke="#10e8ee" stroke-width="1.7"/>
<text x="405.0" y="118.1" class="lg2">t<tspan class="sb" dy="2.8" dx="0.3">3</tspan><tspan dy="-2.8">=0.25um</tspan></text>
<line x1="377.0" y1="129.7" x2="400.6" y2="129.7" stroke="#f010f0" stroke-width="1.7"/>
<text x="405.0" y="133.1" class="lg2">t<tspan class="sb" dy="2.8" dx="0.3">3</tspan><tspan dy="-2.8">=0.3um</tspan></text>
<line x1="377.0" y1="145.0" x2="400.6" y2="145.0" stroke="#f78f1c" stroke-width="1.7"/>
<text x="405.0" y="148.4" class="lg2">t<tspan class="sb" dy="2.8" dx="0.3">3</tspan><tspan dy="-2.8">=0.35um</tspan></text>
<line x1="377.0" y1="159.7" x2="400.6" y2="159.7" stroke="#85922a" stroke-width="1.7"/>
<text x="405.0" y="163.1" class="lg2">t<tspan class="sb" dy="2.8" dx="0.3">3</tspan><tspan dy="-2.8">=0.4um</tspan></text>
<text x="424" y="231.6" text-anchor="middle" class="ax">Frequency(THz)</text>
<text transform="translate(289.8 105.8) rotate(-90)" text-anchor="middle" class="ax">Absorption</text>
<text x="279" y="14.6" class="pl">(b)</text>
</svg>
</body></html>
